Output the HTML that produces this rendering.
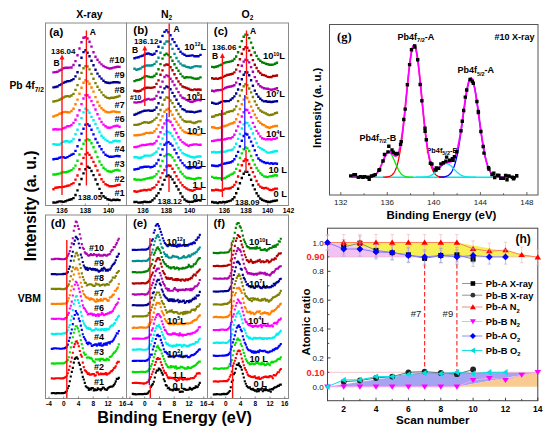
<!DOCTYPE html>
<html><head><meta charset="utf-8"><style>
html,body{margin:0;padding:0;background:#fff;}
svg{display:block;font-family:"Liberation Sans", sans-serif;}
</style></head><body>
<svg width="550" height="434" viewBox="0 0 550 434">
<rect width="550" height="434" fill="#fff"/>
<rect x="45.5" y="23" width="81.0" height="182.5" fill="none" stroke="#8a8a8a" stroke-width="1"/>
<rect x="126.5" y="23" width="81.0" height="182.5" fill="none" stroke="#8a8a8a" stroke-width="1"/>
<rect x="207.5" y="23" width="81.0" height="182.5" fill="none" stroke="#8a8a8a" stroke-width="1"/>
<rect x="45.5" y="215" width="81.0" height="183.5" fill="none" stroke="#8a8a8a" stroke-width="1"/>
<rect x="126.5" y="215" width="81.0" height="183.5" fill="none" stroke="#8a8a8a" stroke-width="1"/>
<rect x="207.5" y="215" width="81.0" height="183.5" fill="none" stroke="#8a8a8a" stroke-width="1"/>
<text x="89.5" y="17.5" font-size="10.5" text-anchor="middle" font-weight="bold" fill="#000" >X-ray</text>
<text x="166.5" y="17.5" font-size="10.5" text-anchor="middle" font-weight="bold" fill="#000" >N<tspan font-size="6.5" dy="2.5">2</tspan></text>
<text x="247.5" y="17.5" font-size="10.5" text-anchor="middle" font-weight="bold" fill="#000" >O<tspan font-size="6.5" dy="2.5">2</tspan></text>
<text x="49.2" y="35.5" font-size="11.5" text-anchor="start" font-weight="bold" fill="#000" >(a)</text>
<text x="133.3" y="33.7" font-size="11.5" text-anchor="start" font-weight="bold" fill="#000" >(b)</text>
<text x="213.8" y="35.0" font-size="11.5" text-anchor="start" font-weight="bold" fill="#000" >(c)</text>
<text x="50.8" y="226.7" font-size="11.5" text-anchor="start" font-weight="bold" fill="#000" >(d)</text>
<text x="133.0" y="227.0" font-size="11.5" text-anchor="start" font-weight="bold" fill="#000" >(e)</text>
<text x="213.5" y="227.0" font-size="11.5" text-anchor="start" font-weight="bold" fill="#000" >(f)</text>
<text x="9.5" y="88.8" font-size="10.3" text-anchor="start" font-weight="bold" fill="#000" >Pb 4f<tspan font-size="6.6" dy="3.6">7/2</tspan></text>
<text x="17.8" y="301.7" font-size="10.4" text-anchor="start" font-weight="bold" fill="#000" >VBM</text>
<text transform="translate(35.8,261.3) rotate(-90)" font-size="15.7" font-weight="bold">Intensity (a. u.)</text>
<text x="97.3" y="423.4" font-size="16.2" text-anchor="start" font-weight="bold" fill="#000" >Binding Energy (eV)</text>
<text x="62.0" y="212.5" font-size="6.8" text-anchor="middle" font-weight="bold" fill="#000" >136</text>
<line x1="62.0" y1="205.5" x2="62.0" y2="203.5" stroke="#666" stroke-width="0.8" />
<text x="85.3" y="212.5" font-size="6.8" text-anchor="middle" font-weight="bold" fill="#000" >138</text>
<line x1="85.3" y1="205.5" x2="85.3" y2="203.5" stroke="#666" stroke-width="0.8" />
<text x="108.6" y="212.5" font-size="6.8" text-anchor="middle" font-weight="bold" fill="#000" >140</text>
<line x1="108.6" y1="205.5" x2="108.6" y2="203.5" stroke="#666" stroke-width="0.8" />
<text x="143.0" y="212.5" font-size="6.8" text-anchor="middle" font-weight="bold" fill="#000" >136</text>
<line x1="143.0" y1="205.5" x2="143.0" y2="203.5" stroke="#666" stroke-width="0.8" />
<text x="166.3" y="212.5" font-size="6.8" text-anchor="middle" font-weight="bold" fill="#000" >138</text>
<line x1="166.3" y1="205.5" x2="166.3" y2="203.5" stroke="#666" stroke-width="0.8" />
<text x="189.6" y="212.5" font-size="6.8" text-anchor="middle" font-weight="bold" fill="#000" >140</text>
<line x1="189.6" y1="205.5" x2="189.6" y2="203.5" stroke="#666" stroke-width="0.8" />
<text x="224.3" y="212.5" font-size="6.8" text-anchor="middle" font-weight="bold" fill="#000" >136</text>
<line x1="224.3" y1="205.5" x2="224.3" y2="203.5" stroke="#666" stroke-width="0.8" />
<text x="246.0" y="212.5" font-size="6.8" text-anchor="middle" font-weight="bold" fill="#000" >138</text>
<line x1="246.0" y1="205.5" x2="246.0" y2="203.5" stroke="#666" stroke-width="0.8" />
<text x="267.7" y="212.5" font-size="6.8" text-anchor="middle" font-weight="bold" fill="#000" >140</text>
<line x1="267.7" y1="205.5" x2="267.7" y2="203.5" stroke="#666" stroke-width="0.8" />
<text x="288.5" y="212.5" font-size="6.8" text-anchor="middle" font-weight="bold" fill="#000" >142</text>
<text x="49.0" y="406.0" font-size="6.5" text-anchor="middle" font-weight="bold" fill="#000" >-4</text>
<line x1="49.0" y1="398.5" x2="49.0" y2="396.5" stroke="#666" stroke-width="0.8" />
<text x="63.7" y="406.0" font-size="6.5" text-anchor="middle" font-weight="bold" fill="#000" >0</text>
<line x1="63.7" y1="398.5" x2="63.7" y2="396.5" stroke="#666" stroke-width="0.8" />
<text x="78.5" y="406.0" font-size="6.5" text-anchor="middle" font-weight="bold" fill="#000" >4</text>
<line x1="78.5" y1="398.5" x2="78.5" y2="396.5" stroke="#666" stroke-width="0.8" />
<text x="93.2" y="406.0" font-size="6.5" text-anchor="middle" font-weight="bold" fill="#000" >8</text>
<line x1="93.2" y1="398.5" x2="93.2" y2="396.5" stroke="#666" stroke-width="0.8" />
<text x="108.0" y="406.0" font-size="6.5" text-anchor="middle" font-weight="bold" fill="#000" >12</text>
<line x1="108.0" y1="398.5" x2="108.0" y2="396.5" stroke="#666" stroke-width="0.8" />
<text x="122.7" y="406.0" font-size="6.5" text-anchor="middle" font-weight="bold" fill="#000" >16</text>
<line x1="122.7" y1="398.5" x2="122.7" y2="396.5" stroke="#666" stroke-width="0.8" />
<text x="130.0" y="406.0" font-size="6.5" text-anchor="middle" font-weight="bold" fill="#000" >-4</text>
<line x1="130.0" y1="398.5" x2="130.0" y2="396.5" stroke="#666" stroke-width="0.8" />
<text x="144.7" y="406.0" font-size="6.5" text-anchor="middle" font-weight="bold" fill="#000" >0</text>
<line x1="144.7" y1="398.5" x2="144.7" y2="396.5" stroke="#666" stroke-width="0.8" />
<text x="159.5" y="406.0" font-size="6.5" text-anchor="middle" font-weight="bold" fill="#000" >4</text>
<line x1="159.5" y1="398.5" x2="159.5" y2="396.5" stroke="#666" stroke-width="0.8" />
<text x="174.2" y="406.0" font-size="6.5" text-anchor="middle" font-weight="bold" fill="#000" >8</text>
<line x1="174.2" y1="398.5" x2="174.2" y2="396.5" stroke="#666" stroke-width="0.8" />
<text x="189.0" y="406.0" font-size="6.5" text-anchor="middle" font-weight="bold" fill="#000" >12</text>
<line x1="189.0" y1="398.5" x2="189.0" y2="396.5" stroke="#666" stroke-width="0.8" />
<text x="203.7" y="406.0" font-size="6.5" text-anchor="middle" font-weight="bold" fill="#000" >16</text>
<line x1="203.7" y1="398.5" x2="203.7" y2="396.5" stroke="#666" stroke-width="0.8" />
<text x="211.0" y="406.0" font-size="6.5" text-anchor="middle" font-weight="bold" fill="#000" >-4</text>
<line x1="211.0" y1="398.5" x2="211.0" y2="396.5" stroke="#666" stroke-width="0.8" />
<text x="225.7" y="406.0" font-size="6.5" text-anchor="middle" font-weight="bold" fill="#000" >0</text>
<line x1="225.7" y1="398.5" x2="225.7" y2="396.5" stroke="#666" stroke-width="0.8" />
<text x="240.5" y="406.0" font-size="6.5" text-anchor="middle" font-weight="bold" fill="#000" >4</text>
<line x1="240.5" y1="398.5" x2="240.5" y2="396.5" stroke="#666" stroke-width="0.8" />
<text x="255.2" y="406.0" font-size="6.5" text-anchor="middle" font-weight="bold" fill="#000" >8</text>
<line x1="255.2" y1="398.5" x2="255.2" y2="396.5" stroke="#666" stroke-width="0.8" />
<text x="270.0" y="406.0" font-size="6.5" text-anchor="middle" font-weight="bold" fill="#000" >12</text>
<line x1="270.0" y1="398.5" x2="270.0" y2="396.5" stroke="#666" stroke-width="0.8" />
<text x="284.7" y="406.0" font-size="6.5" text-anchor="middle" font-weight="bold" fill="#000" >16</text>
<line x1="284.7" y1="398.5" x2="284.7" y2="396.5" stroke="#666" stroke-width="0.8" />
<path d="M53.5 202.5h0M55.5 202.6h0M57.5 202.0h0M59.5 201.4h0M61.5 201.5h0M63.5 201.9h0M65.5 201.3h0M67.5 200.4h0M69.5 199.7h0M71.5 199.2h0M73.5 198.1h0M75.5 195.0h0M77.5 190.4h0M79.5 184.4h0M81.5 179.0h0M83.5 173.4h0M85.5 169.3h0M87.5 166.7h0M89.5 167.9h0M91.5 171.0h0M93.5 175.1h0M95.5 179.5h0M97.5 184.2h0M99.5 188.9h0M101.5 193.1h0M103.5 196.2h0M105.5 197.8h0M107.5 199.3h0M109.5 199.7h0M111.5 200.4h0M113.5 199.7h0M115.5 200.0h0M117.5 199.7h0M119.5 200.1h0" stroke="#000000" stroke-width="2.4" stroke-linecap="square" fill="none"/>
<path d="M53.5 189.2h0M55.5 187.7h0M57.5 187.5h0M59.5 187.1h0M61.5 187.1h0M63.5 186.9h0M65.5 186.4h0M67.5 185.8h0M69.5 185.4h0M71.5 184.1h0M73.5 183.1h0M75.5 179.6h0M77.5 175.5h0M79.5 169.3h0M81.5 163.8h0M83.5 157.9h0M85.5 154.4h0M87.5 153.0h0M89.5 154.9h0M91.5 157.7h0M93.5 161.9h0M95.5 165.8h0M97.5 170.5h0M99.5 174.8h0M101.5 179.3h0M103.5 181.9h0M105.5 184.2h0M107.5 185.3h0M109.5 186.2h0M111.5 186.3h0M113.5 186.1h0M115.5 185.7h0M117.5 185.1h0M119.5 184.8h0" stroke="#ff0000" stroke-width="2.4" stroke-linecap="square" fill="none"/>
<path d="M53.5 174.5h0M55.5 174.5h0M57.5 174.0h0M59.5 173.6h0M61.5 172.8h0M63.5 172.3h0M65.5 172.3h0M67.5 171.8h0M69.5 171.0h0M71.5 170.1h0M73.5 168.4h0M75.5 165.6h0M77.5 160.7h0M79.5 154.5h0M81.5 148.9h0M83.5 143.7h0M85.5 140.5h0M87.5 139.2h0M89.5 140.3h0M91.5 143.2h0M93.5 147.2h0M95.5 151.8h0M97.5 157.0h0M99.5 161.5h0M101.5 164.9h0M103.5 167.8h0M105.5 169.4h0M107.5 171.0h0M109.5 171.5h0M111.5 171.8h0M113.5 170.9h0M115.5 170.1h0M117.5 170.0h0M119.5 170.6h0" stroke="#00e000" stroke-width="2.4" stroke-linecap="square" fill="none"/>
<path d="M53.5 159.3h0M55.5 158.9h0M57.5 158.8h0M59.5 157.7h0M61.5 157.1h0M63.5 157.3h0M65.5 157.9h0M67.5 157.1h0M69.5 155.9h0M71.5 154.8h0M73.5 153.9h0M75.5 150.9h0M77.5 146.2h0M79.5 140.0h0M81.5 133.6h0M83.5 128.8h0M85.5 124.7h0M87.5 124.2h0M89.5 125.8h0M91.5 129.8h0M93.5 134.4h0M95.5 139.0h0M97.5 142.6h0M99.5 146.2h0M101.5 149.3h0M103.5 152.4h0M105.5 154.7h0M107.5 155.9h0M109.5 156.8h0M111.5 156.8h0M113.5 156.6h0M115.5 156.1h0M117.5 156.0h0M119.5 156.3h0" stroke="#0000ff" stroke-width="2.4" stroke-linecap="square" fill="none"/>
<path d="M53.5 144.1h0M55.5 144.5h0M57.5 144.7h0M59.5 144.5h0M61.5 143.2h0M63.5 141.7h0M65.5 141.3h0M67.5 141.2h0M69.5 142.0h0M71.5 141.2h0M73.5 139.0h0M75.5 134.3h0M77.5 129.8h0M79.5 124.1h0M81.5 118.1h0M83.5 112.4h0M85.5 108.8h0M87.5 110.2h0M89.5 112.7h0M91.5 116.9h0M93.5 120.3h0M95.5 124.0h0M97.5 128.3h0M99.5 131.8h0M101.5 135.8h0M103.5 137.7h0M105.5 139.6h0M107.5 140.9h0M109.5 142.4h0M111.5 142.4h0M113.5 141.3h0M115.5 140.8h0M117.5 141.2h0M119.5 141.3h0" stroke="#00f0f0" stroke-width="2.4" stroke-linecap="square" fill="none"/>
<path d="M53.5 129.5h0M55.5 129.3h0M57.5 129.5h0M59.5 129.4h0M61.5 129.4h0M63.5 128.3h0M65.5 127.5h0M67.5 126.3h0M69.5 126.1h0M71.5 125.0h0M73.5 122.9h0M75.5 119.7h0M77.5 115.5h0M79.5 110.2h0M81.5 104.1h0M83.5 98.5h0M85.5 95.3h0M87.5 95.2h0M89.5 97.4h0M91.5 101.1h0M93.5 105.1h0M95.5 109.5h0M97.5 114.2h0M99.5 118.6h0M101.5 121.9h0M103.5 124.6h0M105.5 126.2h0M107.5 127.5h0M109.5 127.8h0M111.5 127.4h0M113.5 126.4h0M115.5 126.0h0M117.5 125.8h0M119.5 126.7h0" stroke="#ff00ff" stroke-width="2.4" stroke-linecap="square" fill="none"/>
<path d="M53.5 116.5h0M55.5 115.6h0M57.5 115.0h0M59.5 113.8h0M61.5 113.3h0M63.5 112.1h0M65.5 111.9h0M67.5 112.2h0M69.5 112.4h0M71.5 111.0h0M73.5 108.7h0M75.5 104.2h0M77.5 99.6h0M79.5 93.7h0M81.5 87.8h0M83.5 82.8h0M85.5 80.3h0M87.5 81.4h0M89.5 83.8h0M91.5 87.5h0M93.5 91.6h0M95.5 97.1h0M97.5 102.0h0M99.5 105.8h0M101.5 108.2h0M103.5 110.0h0M105.5 111.5h0M107.5 112.2h0M109.5 112.4h0M111.5 111.8h0M113.5 111.4h0M115.5 111.7h0M117.5 112.1h0M119.5 112.1h0" stroke="#ff8000" stroke-width="2.4" stroke-linecap="square" fill="none"/>
<path d="M53.5 101.5h0M55.5 101.1h0M57.5 100.6h0M59.5 99.8h0M61.5 98.7h0M63.5 97.5h0M65.5 96.5h0M67.5 96.1h0M69.5 96.5h0M71.5 95.5h0M73.5 93.9h0M75.5 89.9h0M77.5 85.1h0M79.5 78.8h0M81.5 72.9h0M83.5 68.2h0M85.5 66.1h0M87.5 66.5h0M89.5 69.4h0M91.5 73.9h0M93.5 78.7h0M95.5 83.1h0M97.5 86.7h0M99.5 89.9h0M101.5 92.4h0M103.5 95.1h0M105.5 96.8h0M107.5 97.9h0M109.5 98.2h0M111.5 97.8h0M113.5 97.8h0M115.5 97.3h0M117.5 96.8h0M119.5 96.0h0" stroke="#808000" stroke-width="2.4" stroke-linecap="square" fill="none"/>
<path d="M53.5 87.4h0M55.5 87.0h0M57.5 86.5h0M59.5 85.1h0M61.5 84.2h0M63.5 82.7h0M65.5 82.0h0M67.5 81.3h0M69.5 81.1h0M71.5 80.3h0M73.5 79.1h0M75.5 76.4h0M77.5 72.2h0M79.5 65.4h0M81.5 57.8h0M83.5 52.1h0M85.5 50.3h0M87.5 52.7h0M89.5 56.2h0M91.5 60.7h0M93.5 65.2h0M95.5 69.8h0M97.5 73.6h0M99.5 76.4h0M101.5 78.6h0M103.5 80.8h0M105.5 82.2h0M107.5 82.8h0M109.5 83.0h0M111.5 82.6h0M113.5 82.2h0M115.5 82.2h0M117.5 82.3h0M119.5 82.6h0" stroke="#000090" stroke-width="2.4" stroke-linecap="square" fill="none"/>
<path d="M53.5 72.4h0M55.5 72.1h0M57.5 71.8h0M59.5 70.5h0M61.5 69.8h0M63.5 68.2h0M65.5 67.7h0M67.5 67.7h0M69.5 67.6h0M71.5 67.5h0M73.5 65.0h0M75.5 61.1h0M77.5 55.3h0M79.5 48.5h0M81.5 42.2h0M83.5 37.8h0M85.5 37.3h0M87.5 38.5h0M89.5 41.8h0M91.5 46.6h0M93.5 52.3h0M95.5 56.7h0M97.5 59.8h0M99.5 62.4h0M101.5 64.4h0M103.5 66.0h0M105.5 67.1h0M107.5 67.9h0M109.5 68.5h0M111.5 68.3h0M113.5 67.6h0M115.5 67.3h0M117.5 66.8h0M119.5 66.9h0" stroke="#b000b0" stroke-width="2.4" stroke-linecap="square" fill="none"/>
<path d="M134.5 202.0h0M136.5 201.9h0M138.5 202.6h0M140.5 202.5h0M142.5 202.3h0M144.5 201.8h0M146.5 202.0h0M148.5 202.1h0M150.5 201.7h0M152.5 200.2h0M154.5 198.4h0M156.5 195.8h0M158.5 193.1h0M160.5 189.3h0M162.5 184.6h0M164.5 179.9h0M166.5 176.4h0M168.5 175.4h0M170.5 176.7h0M172.5 179.4h0M174.5 182.8h0M176.5 186.3h0M178.5 189.5h0M180.5 193.3h0M182.5 196.7h0M184.5 199.5h0M186.5 201.0h0M188.5 201.8h0M190.5 201.9h0M192.5 201.8h0M194.5 201.1h0M196.5 200.7h0M198.5 200.1h0M200.5 200.5h0" stroke="#000000" stroke-width="2.4" stroke-linecap="square" fill="none"/>
<path d="M134.5 191.3h0M136.5 191.8h0M138.5 191.4h0M140.5 190.8h0M142.5 190.4h0M144.5 190.0h0M146.5 190.2h0M148.5 189.6h0M150.5 189.7h0M152.5 188.3h0M154.5 187.4h0M156.5 184.9h0M158.5 181.7h0M160.5 177.6h0M162.5 173.1h0M164.5 170.0h0M166.5 166.5h0M168.5 165.5h0M170.5 165.7h0M172.5 168.8h0M174.5 172.3h0M176.5 176.2h0M178.5 179.6h0M180.5 182.6h0M182.5 185.3h0M184.5 187.1h0M186.5 188.5h0M188.5 189.6h0M190.5 190.3h0M192.5 190.7h0M194.5 189.9h0M196.5 188.9h0M198.5 188.8h0M200.5 188.9h0" stroke="#ff0000" stroke-width="2.4" stroke-linecap="square" fill="none"/>
<path d="M134.5 179.3h0M136.5 179.7h0M138.5 179.6h0M140.5 179.9h0M142.5 179.6h0M144.5 179.3h0M146.5 178.6h0M148.5 178.3h0M150.5 177.8h0M152.5 177.5h0M154.5 176.4h0M156.5 174.3h0M158.5 171.4h0M160.5 166.0h0M162.5 161.0h0M164.5 156.1h0M166.5 154.6h0M168.5 154.2h0M170.5 155.2h0M172.5 157.4h0M174.5 160.5h0M176.5 165.1h0M178.5 168.3h0M180.5 171.7h0M182.5 174.0h0M184.5 176.4h0M186.5 177.7h0M188.5 178.0h0M190.5 178.5h0M192.5 178.9h0M194.5 179.2h0M196.5 178.5h0M198.5 178.0h0M200.5 178.1h0" stroke="#00e000" stroke-width="2.4" stroke-linecap="square" fill="none"/>
<path d="M134.5 169.5h0M136.5 169.1h0M138.5 168.8h0M140.5 167.5h0M142.5 167.2h0M144.5 166.8h0M146.5 166.8h0M148.5 166.6h0M150.5 167.2h0M152.5 166.9h0M154.5 165.7h0M156.5 163.5h0M158.5 160.0h0M160.5 154.9h0M162.5 149.4h0M164.5 144.8h0M166.5 143.0h0M168.5 142.1h0M170.5 143.7h0M172.5 145.6h0M174.5 149.6h0M176.5 153.3h0M178.5 157.4h0M180.5 160.4h0M182.5 163.1h0M184.5 165.4h0M186.5 167.2h0M188.5 168.2h0M190.5 168.0h0M192.5 167.3h0M194.5 167.1h0M196.5 167.8h0M198.5 167.8h0M200.5 167.3h0" stroke="#0000ff" stroke-width="2.4" stroke-linecap="square" fill="none"/>
<path d="M134.5 157.2h0M136.5 157.3h0M138.5 157.8h0M140.5 157.7h0M142.5 157.2h0M144.5 155.8h0M146.5 155.6h0M148.5 155.6h0M150.5 155.6h0M152.5 154.7h0M154.5 153.4h0M156.5 151.7h0M158.5 148.5h0M160.5 144.0h0M162.5 138.6h0M164.5 134.2h0M166.5 131.4h0M168.5 131.9h0M170.5 133.2h0M172.5 136.0h0M174.5 139.4h0M176.5 143.4h0M178.5 147.6h0M180.5 150.3h0M182.5 153.0h0M184.5 154.3h0M186.5 155.3h0M188.5 155.7h0M190.5 156.7h0M192.5 157.3h0M194.5 157.5h0M196.5 156.8h0M198.5 156.5h0M200.5 156.5h0" stroke="#00f0f0" stroke-width="2.4" stroke-linecap="square" fill="none"/>
<path d="M134.5 147.1h0M136.5 147.0h0M138.5 146.4h0M140.5 145.6h0M142.5 145.0h0M144.5 145.1h0M146.5 144.7h0M148.5 144.4h0M150.5 144.0h0M152.5 144.2h0M154.5 143.2h0M156.5 141.0h0M158.5 136.8h0M160.5 132.2h0M162.5 127.5h0M164.5 123.5h0M166.5 120.4h0M168.5 120.5h0M170.5 121.8h0M172.5 125.3h0M174.5 129.3h0M176.5 133.0h0M178.5 137.3h0M180.5 139.9h0M182.5 142.1h0M184.5 143.5h0M186.5 144.7h0M188.5 145.7h0M190.5 145.1h0M192.5 144.7h0M194.5 144.4h0M196.5 144.4h0M198.5 144.9h0M200.5 144.7h0" stroke="#ff00ff" stroke-width="2.4" stroke-linecap="square" fill="none"/>
<path d="M134.5 135.4h0M136.5 135.2h0M138.5 135.0h0M140.5 134.9h0M142.5 134.4h0M144.5 133.8h0M146.5 132.9h0M148.5 133.1h0M150.5 132.8h0M152.5 132.9h0M154.5 131.2h0M156.5 128.9h0M158.5 125.1h0M160.5 120.3h0M162.5 116.2h0M164.5 111.8h0M166.5 109.7h0M168.5 108.8h0M170.5 111.3h0M172.5 114.8h0M174.5 118.8h0M176.5 121.8h0M178.5 124.7h0M180.5 127.8h0M182.5 130.4h0M184.5 132.0h0M186.5 132.7h0M188.5 133.3h0M190.5 133.9h0M192.5 133.9h0M194.5 133.9h0M196.5 134.4h0M198.5 134.9h0M200.5 134.4h0" stroke="#ff8000" stroke-width="2.4" stroke-linecap="square" fill="none"/>
<path d="M134.5 124.9h0M136.5 124.9h0M138.5 124.5h0M140.5 123.9h0M142.5 122.9h0M144.5 122.3h0M146.5 122.4h0M148.5 122.7h0M150.5 122.2h0M152.5 121.3h0M154.5 119.6h0M156.5 117.9h0M158.5 114.3h0M160.5 110.0h0M162.5 104.7h0M164.5 99.8h0M166.5 97.4h0M168.5 97.7h0M170.5 100.5h0M172.5 103.1h0M174.5 106.9h0M176.5 110.3h0M178.5 114.0h0M180.5 117.0h0M182.5 119.6h0M184.5 121.2h0M186.5 121.8h0M188.5 121.6h0M190.5 121.8h0M192.5 122.6h0M194.5 123.0h0M196.5 122.2h0M198.5 121.4h0M200.5 121.4h0" stroke="#808000" stroke-width="2.4" stroke-linecap="square" fill="none"/>
<path d="M134.5 114.7h0M136.5 114.0h0M138.5 113.0h0M140.5 112.2h0M142.5 111.4h0M144.5 110.8h0M146.5 110.6h0M148.5 110.4h0M150.5 110.7h0M152.5 110.8h0M154.5 109.9h0M156.5 107.5h0M158.5 103.2h0M160.5 97.6h0M162.5 92.4h0M164.5 88.4h0M166.5 86.5h0M168.5 87.3h0M170.5 89.2h0M172.5 92.9h0M174.5 96.2h0M176.5 99.7h0M178.5 103.7h0M180.5 106.3h0M182.5 109.1h0M184.5 110.0h0M186.5 111.5h0M188.5 111.6h0M190.5 111.8h0M192.5 111.9h0M194.5 112.4h0M196.5 111.9h0M198.5 111.4h0M200.5 111.0h0" stroke="#000090" stroke-width="2.4" stroke-linecap="square" fill="none"/>
<path d="M134.5 102.4h0M136.5 102.6h0M138.5 102.1h0M140.5 102.1h0M142.5 101.3h0M144.5 100.1h0M146.5 99.5h0M148.5 98.9h0M150.5 99.6h0M152.5 99.5h0M154.5 98.8h0M156.5 95.9h0M158.5 92.0h0M160.5 86.9h0M162.5 81.6h0M164.5 77.0h0M166.5 75.4h0M168.5 76.3h0M170.5 78.7h0M172.5 81.5h0M174.5 85.0h0M176.5 88.6h0M178.5 92.1h0M180.5 95.5h0M182.5 97.7h0M184.5 98.5h0M186.5 99.9h0M188.5 100.7h0M190.5 101.8h0M192.5 101.7h0M194.5 101.0h0M196.5 100.2h0M198.5 99.7h0M200.5 100.2h0" stroke="#b000b0" stroke-width="2.4" stroke-linecap="square" fill="none"/>
<path d="M134.5 90.7h0M136.5 91.2h0M138.5 91.3h0M140.5 90.7h0M142.5 89.4h0M144.5 88.2h0M146.5 87.8h0M148.5 87.6h0M150.5 87.9h0M152.5 87.6h0M154.5 87.1h0M156.5 83.9h0M158.5 80.4h0M160.5 74.8h0M162.5 70.4h0M164.5 65.4h0M166.5 64.5h0M168.5 64.8h0M170.5 67.3h0M172.5 70.2h0M174.5 74.3h0M176.5 78.3h0M178.5 81.5h0M180.5 84.2h0M182.5 86.5h0M184.5 87.2h0M186.5 88.0h0M188.5 88.7h0M190.5 89.8h0M192.5 90.1h0M194.5 89.4h0M196.5 89.8h0M198.5 89.5h0M200.5 89.7h0" stroke="#b00000" stroke-width="2.4" stroke-linecap="square" fill="none"/>
<path d="M134.5 81.1h0M136.5 80.3h0M138.5 79.9h0M140.5 79.3h0M142.5 78.0h0M144.5 76.6h0M146.5 76.1h0M148.5 76.6h0M150.5 77.1h0M152.5 77.0h0M154.5 75.8h0M156.5 73.7h0M158.5 69.3h0M160.5 64.1h0M162.5 58.6h0M164.5 55.0h0M166.5 53.8h0M168.5 55.0h0M170.5 57.1h0M172.5 60.8h0M174.5 64.3h0M176.5 67.9h0M178.5 70.8h0M180.5 73.9h0M182.5 76.4h0M184.5 77.7h0M186.5 77.3h0M188.5 77.4h0M190.5 77.4h0M192.5 78.0h0M194.5 78.6h0M196.5 78.7h0M198.5 78.5h0M200.5 77.4h0" stroke="#008000" stroke-width="2.4" stroke-linecap="square" fill="none"/>
<path d="M134.5 68.8h0M136.5 69.8h0M138.5 69.2h0M140.5 68.5h0M142.5 67.0h0M144.5 66.3h0M146.5 65.5h0M148.5 65.5h0M150.5 65.5h0M152.5 65.3h0M154.5 63.9h0M156.5 61.6h0M158.5 57.8h0M160.5 52.8h0M162.5 47.8h0M164.5 43.7h0M166.5 41.5h0M168.5 41.5h0M170.5 44.4h0M172.5 48.9h0M174.5 53.9h0M176.5 58.0h0M178.5 61.4h0M180.5 63.6h0M182.5 65.4h0M184.5 65.8h0M186.5 66.9h0M188.5 67.2h0M190.5 67.7h0M192.5 67.2h0M194.5 66.4h0M196.5 66.1h0M198.5 66.4h0M200.5 66.5h0" stroke="#009090" stroke-width="2.4" stroke-linecap="square" fill="none"/>
<path d="M134.5 58.3h0M136.5 57.6h0M138.5 57.3h0M140.5 56.4h0M142.5 55.8h0M144.5 54.6h0M146.5 53.8h0M148.5 53.5h0M150.5 54.2h0M152.5 54.8h0M154.5 53.7h0M156.5 51.1h0M158.5 46.7h0M160.5 41.8h0M162.5 35.9h0M164.5 31.9h0M166.5 30.3h0M168.5 32.3h0M170.5 35.2h0M172.5 39.3h0M174.5 42.1h0M176.5 45.8h0M178.5 48.9h0M180.5 51.7h0M182.5 53.6h0M184.5 54.8h0M186.5 55.9h0M188.5 55.9h0M190.5 55.6h0M192.5 55.4h0M194.5 56.2h0M196.5 56.2h0M198.5 56.2h0M200.5 54.9h0" stroke="#0000c0" stroke-width="2.4" stroke-linecap="square" fill="none"/>
<path d="M212.2 202.0h0M214.1 202.5h0M215.9 202.5h0M217.8 203.0h0M219.6 202.3h0M221.4 202.5h0M223.3 202.0h0M225.2 202.3h0M227.0 201.7h0M228.9 201.1h0M230.7 200.6h0M232.6 199.3h0M234.4 197.3h0M236.2 193.3h0M238.1 188.8h0M239.9 183.2h0M241.8 178.0h0M243.7 173.7h0M245.5 171.6h0M247.3 171.9h0M249.2 174.9h0M251.1 179.8h0M252.9 185.3h0M254.8 189.4h0M256.6 193.2h0M258.4 196.0h0M260.3 198.5h0M262.1 199.8h0M264.0 200.6h0M265.9 201.2h0M267.7 201.8h0M269.6 202.0h0M271.4 201.5h0M273.2 201.0h0M275.1 200.8h0M276.9 200.4h0" stroke="#000000" stroke-width="2.4" stroke-linecap="square" fill="none"/>
<path d="M212.2 190.2h0M214.1 190.4h0M215.9 189.8h0M217.8 190.0h0M219.6 190.4h0M221.4 190.5h0M223.3 189.7h0M225.2 188.6h0M227.0 188.6h0M228.9 188.5h0M230.7 188.0h0M232.6 186.9h0M234.4 185.0h0M236.2 182.0h0M238.1 176.5h0M239.9 170.7h0M241.8 165.2h0M243.7 161.0h0M245.5 159.3h0M247.3 160.3h0M249.2 164.0h0M251.1 167.9h0M252.9 172.1h0M254.8 176.6h0M256.6 181.0h0M258.4 184.5h0M260.3 186.6h0M262.1 187.7h0M264.0 188.2h0M265.9 187.9h0M267.7 188.6h0M269.6 189.7h0M271.4 190.1h0M273.2 189.5h0M275.1 188.7h0M276.9 188.6h0" stroke="#ff0000" stroke-width="2.4" stroke-linecap="square" fill="none"/>
<path d="M212.2 176.9h0M214.1 177.9h0M215.9 177.8h0M217.8 178.3h0M219.6 178.1h0M221.4 178.6h0M223.3 178.5h0M225.2 178.0h0M227.0 176.7h0M228.9 175.8h0M230.7 174.6h0M232.6 173.7h0M234.4 172.5h0M236.2 168.9h0M238.1 164.6h0M239.9 157.9h0M241.8 153.4h0M243.7 149.2h0M245.5 147.4h0M247.3 148.4h0M249.2 151.0h0M251.1 155.9h0M252.9 160.2h0M254.8 164.6h0M256.6 168.0h0M258.4 170.8h0M260.3 173.2h0M262.1 174.7h0M264.0 176.4h0M265.9 176.8h0M267.7 177.1h0M269.6 176.4h0M271.4 176.2h0M273.2 175.7h0M275.1 175.3h0M276.9 175.5h0" stroke="#00e000" stroke-width="2.4" stroke-linecap="square" fill="none"/>
<path d="M212.2 165.5h0M214.1 165.8h0M215.9 166.0h0M217.8 166.0h0M219.6 165.3h0M221.4 164.7h0M223.3 163.8h0M225.2 163.5h0M227.0 163.0h0M228.9 162.7h0M230.7 162.2h0M232.6 161.3h0M234.4 159.3h0M236.2 156.0h0M238.1 151.9h0M239.9 146.4h0M241.8 140.7h0M243.7 136.0h0M245.5 133.8h0M247.3 134.5h0M249.2 137.5h0M251.1 141.6h0M252.9 145.8h0M254.8 150.4h0M256.6 155.1h0M258.4 158.5h0M260.3 160.2h0M262.1 161.4h0M264.0 162.3h0M265.9 163.0h0M267.7 162.9h0M269.6 163.6h0M271.4 163.3h0M273.2 163.7h0M275.1 163.4h0M276.9 163.8h0" stroke="#0000ff" stroke-width="2.4" stroke-linecap="square" fill="none"/>
<path d="M212.2 152.3h0M214.1 151.9h0M215.9 152.5h0M217.8 152.2h0M219.6 152.2h0M221.4 151.8h0M223.3 151.8h0M225.2 151.6h0M227.0 151.0h0M228.9 150.4h0M230.7 150.1h0M232.6 149.5h0M234.4 147.4h0M236.2 143.7h0M238.1 138.9h0M239.9 133.9h0M241.8 128.5h0M243.7 124.4h0M245.5 122.7h0M247.3 123.0h0M249.2 125.6h0M251.1 128.7h0M252.9 133.5h0M254.8 138.6h0M256.6 143.0h0M258.4 146.9h0M260.3 148.1h0M262.1 149.2h0M264.0 150.1h0M265.9 151.6h0M267.7 152.6h0M269.6 152.6h0M271.4 152.3h0M273.2 151.8h0M275.1 151.3h0M276.9 151.2h0" stroke="#00f0f0" stroke-width="2.4" stroke-linecap="square" fill="none"/>
<path d="M212.2 141.1h0M214.1 140.8h0M215.9 140.4h0M217.8 140.0h0M219.6 139.9h0M221.4 139.7h0M223.3 139.6h0M225.2 139.3h0M227.0 138.7h0M228.9 138.1h0M230.7 138.2h0M232.6 137.1h0M234.4 134.7h0M236.2 130.8h0M238.1 126.4h0M239.9 121.9h0M241.8 116.5h0M243.7 112.2h0M245.5 109.7h0M247.3 110.0h0M249.2 112.9h0M251.1 117.1h0M252.9 122.9h0M254.8 126.9h0M256.6 130.9h0M258.4 133.5h0M260.3 136.4h0M262.1 138.2h0M264.0 138.9h0M265.9 139.4h0M267.7 139.2h0M269.6 139.1h0M271.4 139.5h0M273.2 138.9h0M275.1 138.9h0M276.9 137.9h0" stroke="#ff00ff" stroke-width="2.4" stroke-linecap="square" fill="none"/>
<path d="M212.2 127.2h0M214.1 127.5h0M215.9 128.1h0M217.8 128.3h0M219.6 127.9h0M221.4 127.1h0M223.3 126.4h0M225.2 126.0h0M227.0 125.4h0M228.9 124.5h0M230.7 123.6h0M232.6 123.3h0M234.4 122.2h0M236.2 119.2h0M238.1 114.4h0M239.9 109.0h0M241.8 104.2h0M243.7 99.6h0M245.5 97.2h0M247.3 98.0h0M249.2 101.8h0M251.1 106.6h0M252.9 110.7h0M254.8 114.6h0M256.6 117.9h0M258.4 121.1h0M260.3 122.8h0M262.1 124.2h0M264.0 125.1h0M265.9 126.5h0M267.7 127.3h0M269.6 127.7h0M271.4 127.1h0M273.2 126.5h0M275.1 126.0h0M276.9 126.0h0" stroke="#ff8000" stroke-width="2.4" stroke-linecap="square" fill="none"/>
<path d="M212.2 116.8h0M214.1 116.5h0M215.9 115.3h0M217.8 115.1h0M219.6 114.3h0M221.4 114.7h0M223.3 113.7h0M225.2 113.5h0M227.0 112.1h0M228.9 111.8h0M230.7 111.1h0M232.6 111.0h0M234.4 109.5h0M236.2 106.4h0M238.1 101.1h0M239.9 95.6h0M241.8 90.3h0M243.7 86.2h0M245.5 84.3h0M247.3 85.2h0M249.2 88.5h0M251.1 92.4h0M252.9 97.0h0M254.8 101.4h0M256.6 104.9h0M258.4 108.2h0M260.3 110.5h0M262.1 111.8h0M264.0 112.6h0M265.9 113.5h0M267.7 114.5h0M269.6 115.1h0M271.4 114.7h0M273.2 114.4h0M275.1 113.3h0M276.9 112.8h0" stroke="#808000" stroke-width="2.4" stroke-linecap="square" fill="none"/>
<path d="M212.2 102.7h0M214.1 103.4h0M215.9 103.9h0M217.8 103.6h0M219.6 102.8h0M221.4 101.9h0M223.3 101.1h0M225.2 101.2h0M227.0 101.1h0M228.9 101.1h0M230.7 99.8h0M232.6 98.3h0M234.4 96.4h0M236.2 93.5h0M238.1 89.5h0M239.9 84.3h0M241.8 79.3h0M243.7 74.8h0M245.5 72.3h0M247.3 72.5h0M249.2 75.3h0M251.1 80.2h0M252.9 85.7h0M254.8 90.6h0M256.6 94.1h0M258.4 96.7h0M260.3 98.7h0M262.1 100.4h0M264.0 101.4h0M265.9 101.3h0M267.7 101.7h0M269.6 101.7h0M271.4 102.0h0M273.2 101.7h0M275.1 101.4h0M276.9 101.2h0" stroke="#000090" stroke-width="2.4" stroke-linecap="square" fill="none"/>
<path d="M212.2 90.7h0M214.1 91.2h0M215.9 90.5h0M217.8 90.3h0M219.6 90.1h0M221.4 90.0h0M223.3 89.1h0M225.2 88.0h0M227.0 87.2h0M228.9 86.8h0M230.7 86.5h0M232.6 86.0h0M234.4 85.2h0M236.2 82.6h0M238.1 78.3h0M239.9 71.4h0M241.8 65.8h0M243.7 61.6h0M245.5 59.8h0M247.3 60.4h0M249.2 62.4h0M251.1 67.1h0M252.9 71.7h0M254.8 77.1h0M256.6 81.2h0M258.4 84.2h0M260.3 86.3h0M262.1 87.4h0M264.0 88.3h0M265.9 88.6h0M267.7 88.7h0M269.6 89.4h0M271.4 89.7h0M273.2 89.4h0M275.1 89.0h0M276.9 88.2h0" stroke="#b000b0" stroke-width="2.4" stroke-linecap="square" fill="none"/>
<path d="M212.2 78.2h0M214.1 78.9h0M215.9 78.5h0M217.8 78.9h0M219.6 78.2h0M221.4 77.8h0M223.3 76.8h0M225.2 75.9h0M227.0 75.0h0M228.9 74.8h0M230.7 74.2h0M232.6 73.8h0M234.4 72.4h0M236.2 69.6h0M238.1 65.1h0M239.9 59.2h0M241.8 53.7h0M243.7 49.3h0M245.5 47.2h0M247.3 47.8h0M249.2 50.6h0M251.1 55.0h0M252.9 60.1h0M254.8 64.8h0M256.6 68.0h0M258.4 71.3h0M260.3 73.0h0M262.1 74.7h0M264.0 75.1h0M265.9 75.9h0M267.7 76.9h0M269.6 77.1h0M271.4 77.0h0M273.2 76.0h0M275.1 75.9h0M276.9 75.5h0" stroke="#b00000" stroke-width="2.4" stroke-linecap="square" fill="none"/>
<path d="M212.2 66.9h0M214.1 67.3h0M215.9 66.7h0M217.8 66.3h0M219.6 65.4h0M221.4 64.8h0M223.3 63.3h0M225.2 62.6h0M227.0 62.1h0M228.9 61.9h0M230.7 61.4h0M232.6 60.7h0M234.4 59.0h0M236.2 56.5h0M238.1 52.2h0M239.9 46.9h0M241.8 41.1h0M243.7 36.7h0M245.5 34.6h0M247.3 34.9h0M249.2 38.1h0M251.1 42.6h0M252.9 47.7h0M254.8 52.5h0M256.6 55.9h0M258.4 59.0h0M260.3 60.7h0M262.1 62.2h0M264.0 62.9h0M265.9 63.7h0M267.7 64.3h0M269.6 64.7h0M271.4 64.8h0M273.2 64.6h0M275.1 63.7h0M276.9 62.8h0" stroke="#008000" stroke-width="2.4" stroke-linecap="square" fill="none"/>
<path d="M51.8 393.3h0M52.8 393.0h0M53.8 393.0h0M54.8 393.3h0M55.8 393.4h0M56.8 393.1h0M57.8 393.0h0M58.8 393.1h0M59.8 393.3h0M60.8 393.2h0M61.8 393.1h0M62.8 393.1h0M63.8 393.0h0M64.8 392.8h0M65.8 392.0h0M66.8 390.7h0M67.8 388.3h0M68.8 386.0h0M69.8 381.2h0M70.8 376.5h0M71.8 371.9h0M72.8 367.9h0M73.8 362.6h0M74.8 358.9h0M75.8 357.7h0M76.8 357.3h0M77.8 358.7h0M78.8 362.7h0M79.8 364.9h0M80.8 369.4h0M81.8 372.4h0M82.8 376.9h0M83.8 379.5h0M84.8 382.9h0M85.8 386.2h0M86.8 387.3h0M87.8 387.8h0M88.8 389.9h0M89.8 388.5h0M90.8 389.4h0M91.8 388.1h0M92.8 388.1h0M93.8 390.5h0M94.8 389.4h0M95.8 390.2h0M96.8 389.9h0M97.8 388.4h0M98.8 389.3h0M99.8 389.3h0M100.8 390.3h0M101.8 389.0h0M102.8 387.6h0M103.8 387.8h0M104.8 389.1h0M105.8 389.5h0M106.8 389.9h0M107.8 388.4h0M108.8 387.5h0M109.8 387.0h0M110.8 386.6h0M111.8 386.6h0M112.8 386.2h0M113.8 385.1h0M114.8 383.6h0M115.8 381.4h0M116.8 378.9h0M117.8 379.0h0M118.8 377.9h0" stroke="#000000" stroke-width="2.1" stroke-linecap="square" fill="none"/>
<path d="M51.8 378.4h0M52.8 378.5h0M53.8 378.6h0M54.8 378.5h0M55.8 378.3h0M56.8 378.2h0M57.8 378.3h0M58.8 378.2h0M59.8 378.2h0M60.8 378.4h0M61.8 378.5h0M62.8 378.4h0M63.8 378.0h0M64.8 377.5h0M65.8 377.0h0M66.8 375.7h0M67.8 373.2h0M68.8 369.9h0M69.8 366.3h0M70.8 361.7h0M71.8 357.6h0M72.8 352.7h0M73.8 346.9h0M74.8 344.1h0M75.8 341.7h0M76.8 341.3h0M77.8 343.4h0M78.8 346.3h0M79.8 351.0h0M80.8 354.7h0M81.8 356.6h0M82.8 362.6h0M83.8 367.1h0M84.8 370.3h0M85.8 371.1h0M86.8 372.4h0M87.8 373.9h0M88.8 373.2h0M89.8 374.6h0M90.8 374.7h0M91.8 374.2h0M92.8 374.1h0M93.8 374.1h0M94.8 375.6h0M95.8 375.2h0M96.8 372.4h0M97.8 372.5h0M98.8 374.5h0M99.8 374.3h0M100.8 373.6h0M101.8 374.1h0M102.8 373.9h0M103.8 374.2h0M104.8 373.9h0M105.8 373.1h0M106.8 374.8h0M107.8 373.7h0M108.8 373.5h0M109.8 372.7h0M110.8 371.5h0M111.8 371.1h0M112.8 370.0h0M113.8 368.2h0M114.8 367.6h0M115.8 366.3h0M116.8 363.4h0M117.8 361.9h0M118.8 361.8h0" stroke="#ff0000" stroke-width="2.1" stroke-linecap="square" fill="none"/>
<path d="M51.8 363.5h0M52.8 363.4h0M53.8 363.6h0M54.8 363.6h0M55.8 363.5h0M56.8 363.4h0M57.8 363.4h0M58.8 363.4h0M59.8 363.4h0M60.8 363.4h0M61.8 363.3h0M62.8 363.4h0M63.8 363.2h0M64.8 362.8h0M65.8 362.1h0M66.8 361.1h0M67.8 360.0h0M68.8 357.3h0M69.8 352.3h0M70.8 347.4h0M71.8 342.8h0M72.8 337.3h0M73.8 332.8h0M74.8 329.3h0M75.8 326.3h0M76.8 326.2h0M77.8 328.4h0M78.8 331.4h0M79.8 335.5h0M80.8 340.0h0M81.8 344.1h0M82.8 348.3h0M83.8 352.6h0M84.8 354.8h0M85.8 354.5h0M86.8 357.8h0M87.8 357.4h0M88.8 357.5h0M89.8 358.1h0M90.8 357.9h0M91.8 358.8h0M92.8 360.8h0M93.8 361.5h0M94.8 362.3h0M95.8 359.4h0M96.8 359.5h0M97.8 359.5h0M98.8 359.3h0M99.8 360.7h0M100.8 358.9h0M101.8 359.2h0M102.8 358.8h0M103.8 360.2h0M104.8 359.9h0M105.8 360.2h0M106.8 358.8h0M107.8 359.4h0M108.8 359.9h0M109.8 357.0h0M110.8 356.8h0M111.8 355.8h0M112.8 354.2h0M113.8 352.9h0M114.8 352.2h0M115.8 351.0h0M116.8 349.2h0M117.8 347.4h0M118.8 344.4h0" stroke="#00e000" stroke-width="2.1" stroke-linecap="square" fill="none"/>
<path d="M51.8 348.9h0M52.8 348.8h0M53.8 348.4h0M54.8 348.2h0M55.8 348.3h0M56.8 348.5h0M57.8 348.5h0M58.8 348.5h0M59.8 348.7h0M60.8 348.7h0M61.8 348.8h0M62.8 348.5h0M63.8 348.5h0M64.8 348.1h0M65.8 347.6h0M66.8 346.6h0M67.8 344.6h0M68.8 340.9h0M69.8 337.7h0M70.8 333.4h0M71.8 329.5h0M72.8 324.1h0M73.8 318.6h0M74.8 315.0h0M75.8 311.1h0M76.8 313.2h0M77.8 314.5h0M78.8 318.6h0M79.8 321.1h0M80.8 325.6h0M81.8 329.9h0M82.8 334.2h0M83.8 337.0h0M84.8 338.7h0M85.8 340.5h0M86.8 342.9h0M87.8 344.1h0M88.8 342.6h0M89.8 343.2h0M90.8 343.8h0M91.8 346.0h0M92.8 345.5h0M93.8 345.0h0M94.8 344.6h0M95.8 344.2h0M96.8 345.7h0M97.8 344.6h0M98.8 343.6h0M99.8 345.2h0M100.8 343.4h0M101.8 345.7h0M102.8 345.4h0M103.8 343.9h0M104.8 344.6h0M105.8 343.4h0M106.8 344.6h0M107.8 342.8h0M108.8 342.2h0M109.8 343.5h0M110.8 341.8h0M111.8 341.8h0M112.8 340.8h0M113.8 339.4h0M114.8 337.5h0M115.8 335.6h0M116.8 333.3h0M117.8 333.4h0M118.8 331.0h0" stroke="#0000ff" stroke-width="2.1" stroke-linecap="square" fill="none"/>
<path d="M51.8 333.7h0M52.8 334.2h0M53.8 334.1h0M54.8 334.1h0M55.8 333.9h0M56.8 333.9h0M57.8 333.8h0M58.8 333.7h0M59.8 333.7h0M60.8 333.9h0M61.8 333.8h0M62.8 333.5h0M63.8 333.3h0M64.8 333.4h0M65.8 333.1h0M66.8 331.9h0M67.8 330.3h0M68.8 327.3h0M69.8 325.0h0M70.8 320.2h0M71.8 316.4h0M72.8 310.0h0M73.8 303.9h0M74.8 300.2h0M75.8 296.6h0M76.8 296.1h0M77.8 300.1h0M78.8 303.0h0M79.8 306.2h0M80.8 311.9h0M81.8 315.9h0M82.8 320.9h0M83.8 323.4h0M84.8 325.2h0M85.8 326.4h0M86.8 328.3h0M87.8 327.9h0M88.8 329.0h0M89.8 328.4h0M90.8 329.4h0M91.8 330.6h0M92.8 330.3h0M93.8 330.3h0M94.8 329.7h0M95.8 328.6h0M96.8 329.2h0M97.8 329.6h0M98.8 329.6h0M99.8 329.5h0M100.8 330.0h0M101.8 329.0h0M102.8 329.4h0M103.8 329.9h0M104.8 329.0h0M105.8 330.0h0M106.8 328.8h0M107.8 329.5h0M108.8 329.4h0M109.8 327.4h0M110.8 326.2h0M111.8 325.2h0M112.8 325.6h0M113.8 324.0h0M114.8 323.1h0M115.8 320.0h0M116.8 319.1h0M117.8 317.1h0M118.8 315.9h0" stroke="#00f0f0" stroke-width="2.1" stroke-linecap="square" fill="none"/>
<path d="M51.8 318.7h0M52.8 318.8h0M53.8 318.9h0M54.8 318.9h0M55.8 318.9h0M56.8 318.8h0M57.8 318.8h0M58.8 318.7h0M59.8 318.7h0M60.8 318.8h0M61.8 319.2h0M62.8 319.3h0M63.8 319.1h0M64.8 318.6h0M65.8 318.0h0M66.8 317.2h0M67.8 314.9h0M68.8 312.9h0M69.8 308.5h0M70.8 305.7h0M71.8 301.6h0M72.8 295.5h0M73.8 289.2h0M74.8 284.7h0M75.8 281.8h0M76.8 282.8h0M77.8 285.2h0M78.8 288.6h0M79.8 291.9h0M80.8 296.2h0M81.8 300.7h0M82.8 305.4h0M83.8 307.9h0M84.8 308.7h0M85.8 310.6h0M86.8 312.2h0M87.8 314.5h0M88.8 313.9h0M89.8 314.0h0M90.8 313.5h0M91.8 313.9h0M92.8 315.1h0M93.8 314.2h0M94.8 314.9h0M95.8 316.0h0M96.8 315.1h0M97.8 314.2h0M98.8 316.0h0M99.8 314.5h0M100.8 314.8h0M101.8 312.7h0M102.8 313.9h0M103.8 315.1h0M104.8 314.8h0M105.8 314.0h0M106.8 314.3h0M107.8 313.4h0M108.8 313.5h0M109.8 312.4h0M110.8 312.8h0M111.8 311.8h0M112.8 310.9h0M113.8 308.7h0M114.8 307.2h0M115.8 305.1h0M116.8 304.1h0M117.8 302.6h0M118.8 298.9h0" stroke="#ff00ff" stroke-width="2.1" stroke-linecap="square" fill="none"/>
<path d="M51.8 303.9h0M52.8 303.8h0M53.8 303.9h0M54.8 304.0h0M55.8 304.0h0M56.8 303.9h0M57.8 303.8h0M58.8 303.7h0M59.8 304.0h0M60.8 303.8h0M61.8 303.9h0M62.8 303.6h0M63.8 303.8h0M64.8 303.7h0M65.8 303.3h0M66.8 302.5h0M67.8 301.1h0M68.8 298.3h0M69.8 295.3h0M70.8 290.5h0M71.8 286.2h0M72.8 279.5h0M73.8 274.6h0M74.8 269.2h0M75.8 267.8h0M76.8 268.4h0M77.8 269.8h0M78.8 273.6h0M79.8 277.2h0M80.8 282.8h0M81.8 286.9h0M82.8 291.1h0M83.8 294.0h0M84.8 295.2h0M85.8 296.9h0M86.8 297.6h0M87.8 297.8h0M88.8 298.8h0M89.8 299.6h0M90.8 298.2h0M91.8 299.1h0M92.8 299.3h0M93.8 299.7h0M94.8 301.2h0M95.8 301.8h0M96.8 299.4h0M97.8 301.1h0M98.8 300.0h0M99.8 300.6h0M100.8 299.0h0M101.8 300.7h0M102.8 300.4h0M103.8 298.9h0M104.8 298.7h0M105.8 298.8h0M106.8 299.8h0M107.8 300.9h0M108.8 300.4h0M109.8 297.5h0M110.8 297.3h0M111.8 296.4h0M112.8 294.9h0M113.8 294.5h0M114.8 290.7h0M115.8 290.7h0M116.8 288.9h0M117.8 287.6h0M118.8 284.0h0" stroke="#ff8000" stroke-width="2.1" stroke-linecap="square" fill="none"/>
<path d="M51.8 288.9h0M52.8 288.8h0M53.8 288.9h0M54.8 288.8h0M55.8 289.1h0M56.8 288.8h0M57.8 288.9h0M58.8 288.7h0M59.8 288.9h0M60.8 288.9h0M61.8 289.2h0M62.8 289.3h0M63.8 289.1h0M64.8 288.9h0M65.8 288.5h0M66.8 287.7h0M67.8 286.0h0M68.8 284.4h0M69.8 281.3h0M70.8 276.3h0M71.8 271.2h0M72.8 267.4h0M73.8 260.6h0M74.8 256.4h0M75.8 253.5h0M76.8 252.9h0M77.8 255.4h0M78.8 259.4h0M79.8 264.2h0M80.8 268.0h0M81.8 273.4h0M82.8 277.0h0M83.8 279.8h0M84.8 282.6h0M85.8 282.9h0M86.8 285.5h0M87.8 284.7h0M88.8 284.5h0M89.8 284.2h0M90.8 284.2h0M91.8 284.8h0M92.8 285.5h0M93.8 286.0h0M94.8 285.8h0M95.8 283.5h0M96.8 284.5h0M97.8 284.3h0M98.8 284.5h0M99.8 285.8h0M100.8 285.2h0M101.8 285.0h0M102.8 284.5h0M103.8 284.5h0M104.8 285.5h0M105.8 284.8h0M106.8 284.0h0M107.8 284.6h0M108.8 284.7h0M109.8 282.2h0M110.8 281.5h0M111.8 280.3h0M112.8 277.6h0M113.8 277.6h0M114.8 277.7h0M115.8 276.0h0M116.8 273.0h0M117.8 272.3h0M118.8 271.0h0" stroke="#808000" stroke-width="2.1" stroke-linecap="square" fill="none"/>
<path d="M51.8 274.1h0M52.8 274.0h0M53.8 274.1h0M54.8 274.1h0M55.8 274.3h0M56.8 274.4h0M57.8 274.3h0M58.8 274.3h0M59.8 274.2h0M60.8 274.3h0M61.8 274.2h0M62.8 274.1h0M63.8 273.8h0M64.8 273.9h0M65.8 273.7h0M66.8 273.0h0M67.8 272.1h0M68.8 269.0h0M69.8 266.6h0M70.8 260.7h0M71.8 256.1h0M72.8 251.8h0M73.8 244.1h0M74.8 240.6h0M75.8 236.9h0M76.8 237.8h0M77.8 239.2h0M78.8 243.5h0M79.8 247.8h0M80.8 254.6h0M81.8 257.5h0M82.8 262.0h0M83.8 265.5h0M84.8 267.4h0M85.8 269.2h0M86.8 267.8h0M87.8 269.9h0M88.8 268.5h0M89.8 268.4h0M90.8 269.0h0M91.8 269.7h0M92.8 268.8h0M93.8 269.6h0M94.8 269.1h0M95.8 270.1h0M96.8 269.5h0M97.8 270.5h0M98.8 271.8h0M99.8 271.0h0M100.8 270.4h0M101.8 268.7h0M102.8 270.4h0M103.8 267.9h0M104.8 268.7h0M105.8 270.7h0M106.8 269.8h0M107.8 270.6h0M108.8 269.6h0M109.8 269.6h0M110.8 268.2h0M111.8 266.3h0M112.8 264.8h0M113.8 263.9h0M114.8 262.6h0M115.8 260.2h0M116.8 256.9h0M117.8 256.3h0M118.8 253.9h0" stroke="#000090" stroke-width="2.1" stroke-linecap="square" fill="none"/>
<path d="M51.8 259.3h0M52.8 259.2h0M53.8 259.2h0M54.8 258.9h0M55.8 258.8h0M56.8 258.7h0M57.8 258.8h0M58.8 258.9h0M59.8 259.0h0M60.8 259.1h0M61.8 259.2h0M62.8 259.3h0M63.8 259.2h0M64.8 259.0h0M65.8 258.6h0M66.8 257.8h0M67.8 255.6h0M68.8 253.6h0M69.8 251.0h0M70.8 247.3h0M71.8 243.4h0M72.8 238.2h0M73.8 230.8h0M74.8 226.1h0M75.8 221.6h0M76.8 222.2h0M77.8 225.9h0M78.8 229.0h0M79.8 234.3h0M80.8 238.5h0M81.8 244.1h0M82.8 247.8h0M83.8 249.0h0M84.8 252.4h0M85.8 253.4h0M86.8 253.9h0M87.8 255.2h0M88.8 255.7h0M89.8 255.1h0M90.8 254.1h0M91.8 255.0h0M92.8 255.1h0M93.8 254.0h0M94.8 254.8h0M95.8 254.8h0M96.8 256.2h0M97.8 255.0h0M98.8 254.6h0M99.8 255.8h0M100.8 255.4h0M101.8 255.6h0M102.8 255.7h0M103.8 254.9h0M104.8 254.8h0M105.8 255.5h0M106.8 255.7h0M107.8 254.8h0M108.8 254.5h0M109.8 254.0h0M110.8 251.7h0M111.8 250.2h0M112.8 249.8h0M113.8 247.0h0M114.8 247.1h0M115.8 244.7h0M116.8 243.1h0M117.8 240.5h0M118.8 238.8h0" stroke="#b000b0" stroke-width="2.1" stroke-linecap="square" fill="none"/>
<path d="M132.8 393.9h0M133.8 394.1h0M134.8 394.1h0M135.8 394.5h0M136.8 394.3h0M137.8 394.2h0M138.8 394.0h0M139.8 394.1h0M140.8 394.1h0M141.8 394.2h0M142.8 394.1h0M143.8 394.0h0M144.8 393.9h0M145.8 394.0h0M146.8 393.7h0M147.8 393.2h0M148.8 391.8h0M149.8 391.1h0M150.8 387.0h0M151.8 385.4h0M152.8 384.1h0M153.8 381.7h0M154.8 377.5h0M155.8 372.8h0M156.8 370.6h0M157.8 370.5h0M158.8 368.6h0M159.8 369.3h0M160.8 370.5h0M161.8 372.8h0M162.8 374.6h0M163.8 379.3h0M164.8 381.3h0M165.8 385.1h0M166.8 385.8h0M167.8 388.2h0M168.8 387.9h0M169.8 389.4h0M170.8 389.7h0M171.8 389.7h0M172.8 390.5h0M173.8 389.3h0M174.8 389.5h0M175.8 390.0h0M176.8 388.8h0M177.8 389.6h0M178.8 389.4h0M179.8 392.0h0M180.8 391.5h0M181.8 391.6h0M182.8 391.7h0M183.8 388.9h0M184.8 389.4h0M185.8 389.8h0M186.8 390.0h0M187.8 389.8h0M188.8 389.5h0M189.8 387.8h0M190.8 388.9h0M191.8 389.8h0M192.8 388.8h0M193.8 388.1h0M194.8 387.9h0M195.8 386.2h0M196.8 387.1h0M197.8 386.7h0M198.8 384.8h0M199.8 382.9h0" stroke="#000000" stroke-width="2.1" stroke-linecap="square" fill="none"/>
<path d="M132.8 383.0h0M133.8 383.0h0M134.8 382.8h0M135.8 383.0h0M136.8 382.9h0M137.8 383.0h0M138.8 383.0h0M139.8 383.1h0M140.8 383.2h0M141.8 383.3h0M142.8 383.4h0M143.8 383.6h0M144.8 383.3h0M145.8 383.2h0M146.8 382.5h0M147.8 382.0h0M148.8 380.4h0M149.8 378.9h0M150.8 377.0h0M151.8 374.2h0M152.8 371.8h0M153.8 369.2h0M154.8 365.0h0M155.8 362.1h0M156.8 359.1h0M157.8 358.1h0M158.8 358.9h0M159.8 358.9h0M160.8 362.2h0M161.8 365.0h0M162.8 367.8h0M163.8 370.6h0M164.8 372.7h0M165.8 373.1h0M166.8 375.3h0M167.8 377.4h0M168.8 378.1h0M169.8 377.6h0M170.8 377.9h0M171.8 377.7h0M172.8 378.1h0M173.8 378.0h0M174.8 378.9h0M175.8 379.9h0M176.8 380.9h0M177.8 378.0h0M178.8 380.0h0M179.8 377.9h0M180.8 378.5h0M181.8 378.9h0M182.8 379.7h0M183.8 379.3h0M184.8 378.5h0M185.8 379.3h0M186.8 379.4h0M187.8 378.8h0M188.8 379.2h0M189.8 378.8h0M190.8 378.2h0M191.8 378.2h0M192.8 378.1h0M193.8 378.0h0M194.8 376.7h0M195.8 375.8h0M196.8 373.6h0M197.8 373.5h0M198.8 373.0h0M199.8 373.5h0" stroke="#ff0000" stroke-width="2.1" stroke-linecap="square" fill="none"/>
<path d="M132.8 371.9h0M133.8 372.1h0M134.8 372.3h0M135.8 372.1h0M136.8 372.1h0M137.8 372.0h0M138.8 372.0h0M139.8 372.0h0M140.8 371.8h0M141.8 371.8h0M142.8 371.9h0M143.8 372.0h0M144.8 372.0h0M145.8 371.7h0M146.8 371.6h0M147.8 371.1h0M148.8 369.5h0M149.8 369.0h0M150.8 366.2h0M151.8 364.1h0M152.8 361.1h0M153.8 357.2h0M154.8 353.9h0M155.8 350.9h0M156.8 347.1h0M157.8 345.9h0M158.8 347.9h0M159.8 349.5h0M160.8 350.2h0M161.8 353.5h0M162.8 356.1h0M163.8 359.0h0M164.8 361.2h0M165.8 363.7h0M166.8 365.3h0M167.8 366.9h0M168.8 367.4h0M169.8 367.5h0M170.8 366.0h0M171.8 367.1h0M172.8 366.5h0M173.8 366.8h0M174.8 367.6h0M175.8 366.4h0M176.8 368.6h0M177.8 367.9h0M178.8 367.9h0M179.8 367.7h0M180.8 366.9h0M181.8 366.9h0M182.8 367.5h0M183.8 367.7h0M184.8 368.6h0M185.8 368.3h0M186.8 368.6h0M187.8 367.1h0M188.8 368.0h0M189.8 367.7h0M190.8 368.0h0M191.8 367.2h0M192.8 366.7h0M193.8 366.1h0M194.8 365.7h0M195.8 365.0h0M196.8 363.7h0M197.8 362.9h0M198.8 361.8h0M199.8 361.6h0" stroke="#00e000" stroke-width="2.1" stroke-linecap="square" fill="none"/>
<path d="M132.8 361.0h0M133.8 360.9h0M134.8 360.8h0M135.8 360.9h0M136.8 360.8h0M137.8 360.8h0M138.8 360.8h0M139.8 360.9h0M140.8 361.0h0M141.8 360.9h0M142.8 360.8h0M143.8 360.8h0M144.8 360.9h0M145.8 360.8h0M146.8 360.4h0M147.8 359.8h0M148.8 358.9h0M149.8 357.3h0M150.8 354.6h0M151.8 354.6h0M152.8 349.5h0M153.8 346.4h0M154.8 343.1h0M155.8 339.0h0M156.8 335.5h0M157.8 334.7h0M158.8 336.3h0M159.8 336.1h0M160.8 339.9h0M161.8 342.8h0M162.8 345.4h0M163.8 349.2h0M164.8 351.7h0M165.8 351.9h0M166.8 353.1h0M167.8 354.3h0M168.8 356.8h0M169.8 355.5h0M170.8 356.6h0M171.8 356.4h0M172.8 356.5h0M173.8 357.1h0M174.8 356.5h0M175.8 355.8h0M176.8 355.7h0M177.8 355.7h0M178.8 356.3h0M179.8 355.3h0M180.8 356.8h0M181.8 356.7h0M182.8 357.1h0M183.8 356.4h0M184.8 356.6h0M185.8 355.9h0M186.8 355.9h0M187.8 357.1h0M188.8 357.3h0M189.8 356.7h0M190.8 355.7h0M191.8 355.0h0M192.8 355.3h0M193.8 354.8h0M194.8 354.0h0M195.8 353.3h0M196.8 352.0h0M197.8 351.3h0M198.8 349.8h0M199.8 349.4h0" stroke="#0000ff" stroke-width="2.1" stroke-linecap="square" fill="none"/>
<path d="M132.8 349.7h0M133.8 349.6h0M134.8 349.7h0M135.8 349.7h0M136.8 349.6h0M137.8 349.4h0M138.8 349.4h0M139.8 349.3h0M140.8 349.4h0M141.8 349.7h0M142.8 349.8h0M143.8 349.8h0M144.8 349.7h0M145.8 349.7h0M146.8 349.5h0M147.8 348.9h0M148.8 347.3h0M149.8 345.3h0M150.8 344.4h0M151.8 340.9h0M152.8 338.4h0M153.8 334.9h0M154.8 331.1h0M155.8 328.3h0M156.8 326.0h0M157.8 326.3h0M158.8 325.1h0M159.8 327.1h0M160.8 329.0h0M161.8 332.1h0M162.8 335.0h0M163.8 337.4h0M164.8 338.9h0M165.8 342.5h0M166.8 344.0h0M167.8 343.7h0M168.8 345.5h0M169.8 345.3h0M170.8 345.8h0M171.8 345.9h0M172.8 346.7h0M173.8 345.5h0M174.8 345.6h0M175.8 345.9h0M176.8 344.5h0M177.8 345.5h0M178.8 345.0h0M179.8 344.7h0M180.8 345.3h0M181.8 346.7h0M182.8 345.6h0M183.8 344.8h0M184.8 345.4h0M185.8 345.7h0M186.8 346.5h0M187.8 345.9h0M188.8 346.2h0M189.8 344.8h0M190.8 345.1h0M191.8 344.5h0M192.8 344.0h0M193.8 343.8h0M194.8 343.7h0M195.8 342.0h0M196.8 342.4h0M197.8 341.8h0M198.8 339.8h0M199.8 338.7h0" stroke="#00f0f0" stroke-width="2.1" stroke-linecap="square" fill="none"/>
<path d="M132.8 338.8h0M133.8 338.6h0M134.8 338.6h0M135.8 338.5h0M136.8 338.6h0M137.8 338.8h0M138.8 338.6h0M139.8 338.8h0M140.8 338.7h0M141.8 338.8h0M142.8 338.8h0M143.8 338.7h0M144.8 338.5h0M145.8 338.1h0M146.8 337.9h0M147.8 337.5h0M148.8 337.3h0M149.8 335.3h0M150.8 334.6h0M151.8 330.4h0M152.8 328.4h0M153.8 323.6h0M154.8 319.5h0M155.8 317.2h0M156.8 314.9h0M157.8 314.1h0M158.8 314.2h0M159.8 315.9h0M160.8 317.1h0M161.8 321.3h0M162.8 324.3h0M163.8 327.3h0M164.8 329.9h0M165.8 330.6h0M166.8 332.8h0M167.8 334.0h0M168.8 334.3h0M169.8 334.4h0M170.8 334.7h0M171.8 334.3h0M172.8 333.4h0M173.8 333.9h0M174.8 333.2h0M175.8 334.0h0M176.8 334.8h0M177.8 334.3h0M178.8 335.4h0M179.8 333.4h0M180.8 335.3h0M181.8 334.5h0M182.8 335.7h0M183.8 334.9h0M184.8 334.9h0M185.8 334.9h0M186.8 334.5h0M187.8 333.9h0M188.8 333.7h0M189.8 334.2h0M190.8 333.6h0M191.8 333.7h0M192.8 332.7h0M193.8 332.8h0M194.8 332.5h0M195.8 331.5h0M196.8 330.9h0M197.8 329.8h0M198.8 327.5h0M199.8 327.1h0" stroke="#ff00ff" stroke-width="2.1" stroke-linecap="square" fill="none"/>
<path d="M132.8 328.0h0M133.8 327.6h0M134.8 327.7h0M135.8 327.8h0M136.8 327.9h0M137.8 327.8h0M138.8 327.7h0M139.8 327.4h0M140.8 327.5h0M141.8 327.4h0M142.8 327.7h0M143.8 327.6h0M144.8 327.7h0M145.8 327.7h0M146.8 327.5h0M147.8 326.9h0M148.8 324.6h0M149.8 323.0h0M150.8 322.3h0M151.8 319.7h0M152.8 317.0h0M153.8 312.6h0M154.8 308.4h0M155.8 304.9h0M156.8 302.9h0M157.8 303.1h0M158.8 303.0h0M159.8 303.8h0M160.8 307.3h0M161.8 311.3h0M162.8 313.3h0M163.8 315.1h0M164.8 319.0h0M165.8 320.7h0M166.8 321.6h0M167.8 323.0h0M168.8 323.9h0M169.8 323.3h0M170.8 324.3h0M171.8 323.6h0M172.8 324.0h0M173.8 324.5h0M174.8 323.3h0M175.8 323.8h0M176.8 323.9h0M177.8 324.2h0M178.8 323.5h0M179.8 324.0h0M180.8 322.7h0M181.8 323.8h0M182.8 324.1h0M183.8 324.2h0M184.8 323.8h0M185.8 323.5h0M186.8 323.4h0M187.8 323.8h0M188.8 323.2h0M189.8 323.3h0M190.8 322.8h0M191.8 322.4h0M192.8 321.1h0M193.8 320.8h0M194.8 320.1h0M195.8 319.9h0M196.8 319.2h0M197.8 317.5h0M198.8 316.2h0M199.8 315.4h0" stroke="#ff8000" stroke-width="2.1" stroke-linecap="square" fill="none"/>
<path d="M132.8 316.6h0M133.8 316.4h0M134.8 316.3h0M135.8 316.3h0M136.8 316.4h0M137.8 316.4h0M138.8 316.4h0M139.8 316.2h0M140.8 316.5h0M141.8 316.3h0M142.8 316.5h0M143.8 316.2h0M144.8 316.2h0M145.8 316.1h0M146.8 315.7h0M147.8 315.3h0M148.8 313.0h0M149.8 312.8h0M150.8 310.1h0M151.8 307.2h0M152.8 304.7h0M153.8 300.3h0M154.8 297.6h0M155.8 294.7h0M156.8 292.5h0M157.8 292.5h0M158.8 292.5h0M159.8 294.9h0M160.8 297.5h0M161.8 301.1h0M162.8 303.2h0M163.8 304.1h0M164.8 307.0h0M165.8 310.1h0M166.8 312.7h0M167.8 311.8h0M168.8 311.8h0M169.8 310.7h0M170.8 311.5h0M171.8 310.4h0M172.8 312.0h0M173.8 312.7h0M174.8 312.1h0M175.8 312.3h0M176.8 312.1h0M177.8 313.2h0M178.8 313.8h0M179.8 313.8h0M180.8 312.7h0M181.8 312.8h0M182.8 314.3h0M183.8 312.1h0M184.8 313.6h0M185.8 311.8h0M186.8 313.3h0M187.8 311.9h0M188.8 312.4h0M189.8 312.5h0M190.8 311.4h0M191.8 309.9h0M192.8 310.0h0M193.8 309.6h0M194.8 310.4h0M195.8 309.1h0M196.8 307.0h0M197.8 306.4h0M198.8 306.2h0M199.8 304.2h0" stroke="#808000" stroke-width="2.1" stroke-linecap="square" fill="none"/>
<path d="M132.8 305.2h0M133.8 305.1h0M134.8 305.2h0M135.8 305.3h0M136.8 305.5h0M137.8 305.4h0M138.8 305.5h0M139.8 305.2h0M140.8 305.4h0M141.8 305.4h0M142.8 305.5h0M143.8 305.3h0M144.8 305.2h0M145.8 305.1h0M146.8 305.0h0M147.8 304.4h0M148.8 303.9h0M149.8 302.5h0M150.8 298.3h0M151.8 297.5h0M152.8 293.3h0M153.8 292.2h0M154.8 287.7h0M155.8 284.5h0M156.8 281.4h0M157.8 279.9h0M158.8 279.9h0M159.8 283.6h0M160.8 285.2h0M161.8 289.5h0M162.8 291.6h0M163.8 294.6h0M164.8 296.3h0M165.8 297.5h0M166.8 298.3h0M167.8 299.6h0M168.8 300.9h0M169.8 299.3h0M170.8 300.8h0M171.8 299.2h0M172.8 301.3h0M173.8 299.6h0M174.8 301.1h0M175.8 300.7h0M176.8 300.8h0M177.8 299.7h0M178.8 302.2h0M179.8 300.8h0M180.8 301.8h0M181.8 301.7h0M182.8 300.9h0M183.8 300.6h0M184.8 302.9h0M185.8 302.2h0M186.8 301.0h0M187.8 301.0h0M188.8 302.1h0M189.8 300.6h0M190.8 301.4h0M191.8 300.3h0M192.8 298.9h0M193.8 299.2h0M194.8 297.5h0M195.8 298.4h0M196.8 295.6h0M197.8 295.8h0M198.8 295.2h0M199.8 291.9h0" stroke="#000090" stroke-width="2.1" stroke-linecap="square" fill="none"/>
<path d="M132.8 294.3h0M133.8 294.3h0M134.8 294.6h0M135.8 294.7h0M136.8 294.5h0M137.8 294.4h0M138.8 294.4h0M139.8 294.4h0M140.8 294.3h0M141.8 294.1h0M142.8 294.3h0M143.8 294.3h0M144.8 294.6h0M145.8 294.4h0M146.8 294.3h0M147.8 293.4h0M148.8 291.6h0M149.8 289.1h0M150.8 288.2h0M151.8 285.3h0M152.8 282.9h0M153.8 279.6h0M154.8 275.7h0M155.8 271.1h0M156.8 269.4h0M157.8 268.6h0M158.8 268.6h0M159.8 273.0h0M160.8 275.5h0M161.8 278.6h0M162.8 281.9h0M163.8 284.0h0M164.8 285.6h0M165.8 288.3h0M166.8 288.6h0M167.8 290.4h0M168.8 289.0h0M169.8 290.7h0M170.8 290.7h0M171.8 290.8h0M172.8 290.7h0M173.8 289.2h0M174.8 288.1h0M175.8 289.5h0M176.8 289.9h0M177.8 291.3h0M178.8 289.9h0M179.8 290.2h0M180.8 289.8h0M181.8 290.0h0M182.8 289.6h0M183.8 290.0h0M184.8 290.1h0M185.8 289.0h0M186.8 289.7h0M187.8 289.4h0M188.8 289.3h0M189.8 290.2h0M190.8 288.8h0M191.8 290.2h0M192.8 288.9h0M193.8 288.2h0M194.8 286.6h0M195.8 286.2h0M196.8 286.3h0M197.8 284.7h0M198.8 283.2h0M199.8 280.0h0" stroke="#b000b0" stroke-width="2.1" stroke-linecap="square" fill="none"/>
<path d="M132.8 283.2h0M133.8 283.6h0M134.8 283.5h0M135.8 283.4h0M136.8 283.3h0M137.8 283.2h0M138.8 283.4h0M139.8 283.5h0M140.8 283.4h0M141.8 283.1h0M142.8 283.1h0M143.8 283.3h0M144.8 283.4h0M145.8 283.2h0M146.8 282.8h0M147.8 282.1h0M148.8 280.9h0M149.8 279.0h0M150.8 276.8h0M151.8 274.7h0M152.8 272.6h0M153.8 267.9h0M154.8 265.7h0M155.8 261.2h0M156.8 259.4h0M157.8 258.1h0M158.8 258.4h0M159.8 259.7h0M160.8 263.6h0M161.8 266.8h0M162.8 271.0h0M163.8 272.9h0M164.8 274.2h0M165.8 277.2h0M166.8 278.6h0M167.8 277.9h0M168.8 278.6h0M169.8 278.9h0M170.8 278.0h0M171.8 278.4h0M172.8 279.6h0M173.8 279.5h0M174.8 279.9h0M175.8 279.1h0M176.8 280.1h0M177.8 279.1h0M178.8 280.0h0M179.8 279.8h0M180.8 280.7h0M181.8 279.5h0M182.8 279.5h0M183.8 280.3h0M184.8 280.7h0M185.8 279.2h0M186.8 279.6h0M187.8 280.3h0M188.8 279.1h0M189.8 279.3h0M190.8 277.9h0M191.8 278.1h0M192.8 276.1h0M193.8 274.6h0M194.8 274.5h0M195.8 275.4h0M196.8 272.6h0M197.8 271.7h0M198.8 270.7h0M199.8 269.5h0" stroke="#b00000" stroke-width="2.1" stroke-linecap="square" fill="none"/>
<path d="M132.8 272.1h0M133.8 272.0h0M134.8 272.1h0M135.8 272.3h0M136.8 272.5h0M137.8 272.5h0M138.8 272.3h0M139.8 272.3h0M140.8 272.4h0M141.8 272.3h0M142.8 272.3h0M143.8 271.9h0M144.8 271.8h0M145.8 271.4h0M146.8 271.3h0M147.8 270.8h0M148.8 269.4h0M149.8 267.7h0M150.8 265.7h0M151.8 264.0h0M152.8 259.7h0M153.8 254.8h0M154.8 252.6h0M155.8 250.2h0M156.8 248.2h0M157.8 247.3h0M158.8 249.0h0M159.8 250.5h0M160.8 252.9h0M161.8 257.0h0M162.8 260.1h0M163.8 262.1h0M164.8 263.7h0M165.8 264.4h0M166.8 266.2h0M167.8 266.1h0M168.8 267.5h0M169.8 267.4h0M170.8 268.4h0M171.8 267.6h0M172.8 267.5h0M173.8 267.0h0M174.8 268.6h0M175.8 268.4h0M176.8 267.6h0M177.8 268.0h0M178.8 269.5h0M179.8 268.5h0M180.8 268.5h0M181.8 268.8h0M182.8 267.9h0M183.8 268.5h0M184.8 268.2h0M185.8 267.6h0M186.8 267.4h0M187.8 266.9h0M188.8 264.8h0M189.8 266.3h0M190.8 267.2h0M191.8 266.3h0M192.8 266.5h0M193.8 264.4h0M194.8 264.3h0M195.8 263.4h0M196.8 261.5h0M197.8 259.8h0M198.8 258.6h0M199.8 258.0h0" stroke="#008000" stroke-width="2.1" stroke-linecap="square" fill="none"/>
<path d="M132.8 261.0h0M133.8 261.3h0M134.8 261.1h0M135.8 261.0h0M136.8 260.9h0M137.8 260.9h0M138.8 260.8h0M139.8 261.0h0M140.8 261.0h0M141.8 261.1h0M142.8 260.7h0M143.8 260.7h0M144.8 260.8h0M145.8 261.0h0M146.8 260.7h0M147.8 260.1h0M148.8 258.9h0M149.8 258.2h0M150.8 254.8h0M151.8 252.5h0M152.8 249.5h0M153.8 245.0h0M154.8 241.2h0M155.8 238.3h0M156.8 236.1h0M157.8 235.1h0M158.8 237.0h0M159.8 240.2h0M160.8 243.8h0M161.8 247.3h0M162.8 248.2h0M163.8 252.3h0M164.8 254.0h0M165.8 256.2h0M166.8 254.8h0M167.8 256.6h0M168.8 257.6h0M169.8 257.8h0M170.8 257.7h0M171.8 257.2h0M172.8 255.9h0M173.8 256.4h0M174.8 256.7h0M175.8 256.6h0M176.8 256.9h0M177.8 257.1h0M178.8 258.5h0M179.8 258.3h0M180.8 258.3h0M181.8 257.8h0M182.8 257.1h0M183.8 256.0h0M184.8 257.4h0M185.8 257.5h0M186.8 257.3h0M187.8 256.2h0M188.8 255.4h0M189.8 256.6h0M190.8 255.7h0M191.8 254.2h0M192.8 254.5h0M193.8 253.4h0M194.8 253.4h0M195.8 252.2h0M196.8 251.8h0M197.8 249.9h0M198.8 248.9h0M199.8 247.5h0" stroke="#009090" stroke-width="2.1" stroke-linecap="square" fill="none"/>
<path d="M132.8 249.9h0M133.8 250.0h0M134.8 249.9h0M135.8 250.0h0M136.8 250.0h0M137.8 249.8h0M138.8 249.7h0M139.8 249.8h0M140.8 249.8h0M141.8 249.6h0M142.8 249.5h0M143.8 249.6h0M144.8 249.6h0M145.8 249.6h0M146.8 249.3h0M147.8 249.0h0M148.8 247.8h0M149.8 246.4h0M150.8 244.6h0M151.8 240.6h0M152.8 239.2h0M153.8 232.8h0M154.8 230.3h0M155.8 225.7h0M156.8 224.5h0M157.8 224.1h0M158.8 226.1h0M159.8 228.9h0M160.8 231.9h0M161.8 234.8h0M162.8 238.2h0M163.8 240.8h0M164.8 243.0h0M165.8 244.2h0M166.8 245.5h0M167.8 246.3h0M168.8 245.3h0M169.8 244.1h0M170.8 245.2h0M171.8 245.8h0M172.8 244.9h0M173.8 246.0h0M174.8 245.8h0M175.8 245.9h0M176.8 246.8h0M177.8 244.9h0M178.8 246.2h0M179.8 244.6h0M180.8 245.6h0M181.8 245.8h0M182.8 245.3h0M183.8 245.1h0M184.8 246.0h0M185.8 245.6h0M186.8 245.6h0M187.8 245.7h0M188.8 244.6h0M189.8 244.3h0M190.8 243.6h0M191.8 244.1h0M192.8 243.1h0M193.8 242.3h0M194.8 243.1h0M195.8 240.2h0M196.8 239.7h0M197.8 237.6h0M198.8 237.4h0M199.8 234.9h0" stroke="#0000c0" stroke-width="2.1" stroke-linecap="square" fill="none"/>
<path d="M213.8 394.5h0M214.8 394.3h0M215.8 394.4h0M216.8 394.1h0M217.8 394.2h0M218.8 394.2h0M219.8 394.5h0M220.8 394.5h0M221.8 394.1h0M222.8 394.1h0M223.8 393.9h0M224.8 394.2h0M225.8 394.1h0M226.8 393.9h0M227.8 393.3h0M228.8 392.2h0M229.8 391.0h0M230.8 387.2h0M231.8 381.9h0M232.8 380.2h0M233.8 374.3h0M234.8 372.7h0M235.8 368.8h0M236.8 364.7h0M237.8 364.9h0M238.8 363.4h0M239.8 365.9h0M240.8 367.1h0M241.8 369.7h0M242.8 373.7h0M243.8 377.5h0M244.8 381.3h0M245.8 383.7h0M246.8 386.0h0M247.8 387.3h0M248.8 387.6h0M249.8 387.3h0M250.8 389.0h0M251.8 389.5h0M252.8 388.8h0M253.8 389.9h0M254.8 390.8h0M255.8 390.3h0M256.8 391.5h0M257.8 389.1h0M258.8 391.1h0M259.8 389.2h0M260.8 389.6h0M261.8 388.4h0M262.8 391.2h0M263.8 389.2h0M264.8 390.1h0M265.8 388.4h0M266.8 390.0h0M267.8 390.4h0M268.8 390.6h0M269.8 389.5h0M270.8 391.7h0M271.8 389.1h0M272.8 389.4h0M273.8 388.1h0M274.8 387.4h0M275.8 387.3h0M276.8 386.7h0M277.8 385.8h0M278.8 386.0h0M279.8 384.7h0M280.8 384.6h0" stroke="#000000" stroke-width="2.1" stroke-linecap="square" fill="none"/>
<path d="M213.8 381.5h0M214.8 381.3h0M215.8 381.4h0M216.8 381.5h0M217.8 381.6h0M218.8 381.5h0M219.8 381.3h0M220.8 381.3h0M221.8 381.3h0M222.8 381.3h0M223.8 381.1h0M224.8 381.0h0M225.8 381.2h0M226.8 381.1h0M227.8 380.4h0M228.8 379.2h0M229.8 376.7h0M230.8 374.7h0M231.8 371.6h0M232.8 365.9h0M233.8 363.4h0M234.8 360.7h0M235.8 358.0h0M236.8 353.9h0M237.8 351.3h0M238.8 350.5h0M239.8 351.1h0M240.8 354.3h0M241.8 358.5h0M242.8 361.6h0M243.8 365.2h0M244.8 368.1h0M245.8 370.0h0M246.8 372.2h0M247.8 374.6h0M248.8 375.8h0M249.8 376.0h0M250.8 376.7h0M251.8 376.9h0M252.8 377.1h0M253.8 376.9h0M254.8 376.3h0M255.8 378.3h0M256.8 377.7h0M257.8 378.4h0M258.8 377.3h0M259.8 379.0h0M260.8 378.7h0M261.8 377.8h0M262.8 377.8h0M263.8 377.0h0M264.8 376.9h0M265.8 376.6h0M266.8 377.2h0M267.8 376.7h0M268.8 377.3h0M269.8 376.1h0M270.8 376.4h0M271.8 376.6h0M272.8 378.3h0M273.8 375.1h0M274.8 375.5h0M275.8 375.3h0M276.8 373.8h0M277.8 372.3h0M278.8 372.3h0M279.8 370.2h0M280.8 369.0h0" stroke="#ff0000" stroke-width="2.1" stroke-linecap="square" fill="none"/>
<path d="M213.8 368.7h0M214.8 368.4h0M215.8 368.5h0M216.8 368.6h0M217.8 368.8h0M218.8 368.9h0M219.8 368.7h0M220.8 368.5h0M221.8 368.4h0M222.8 368.5h0M223.8 368.6h0M224.8 368.4h0M225.8 368.4h0M226.8 368.2h0M227.8 367.8h0M228.8 366.5h0M229.8 364.1h0M230.8 361.6h0M231.8 360.0h0M232.8 355.2h0M233.8 350.7h0M234.8 344.9h0M235.8 342.8h0M236.8 339.7h0M237.8 338.6h0M238.8 339.7h0M239.8 340.2h0M240.8 343.9h0M241.8 346.0h0M242.8 349.8h0M243.8 353.0h0M244.8 355.9h0M245.8 359.3h0M246.8 360.9h0M247.8 362.6h0M248.8 363.1h0M249.8 364.5h0M250.8 363.9h0M251.8 363.4h0M252.8 363.6h0M253.8 364.1h0M254.8 364.0h0M255.8 362.7h0M256.8 363.1h0M257.8 362.4h0M258.8 363.6h0M259.8 363.6h0M260.8 364.5h0M261.8 362.9h0M262.8 363.9h0M263.8 363.5h0M264.8 365.3h0M265.8 365.0h0M266.8 363.9h0M267.8 363.4h0M268.8 364.3h0M269.8 365.1h0M270.8 362.8h0M271.8 361.7h0M272.8 362.4h0M273.8 361.8h0M274.8 361.5h0M275.8 361.3h0M276.8 360.4h0M277.8 359.3h0M278.8 358.8h0M279.8 359.3h0M280.8 357.2h0" stroke="#00e000" stroke-width="2.1" stroke-linecap="square" fill="none"/>
<path d="M213.8 355.6h0M214.8 355.7h0M215.8 355.9h0M216.8 356.0h0M217.8 356.0h0M218.8 355.8h0M219.8 355.8h0M220.8 355.8h0M221.8 355.8h0M222.8 355.6h0M223.8 355.6h0M224.8 355.5h0M225.8 355.4h0M226.8 355.1h0M227.8 354.9h0M228.8 354.1h0M229.8 352.5h0M230.8 349.4h0M231.8 346.6h0M232.8 342.4h0M233.8 339.2h0M234.8 335.4h0M235.8 331.5h0M236.8 327.8h0M237.8 326.4h0M238.8 325.3h0M239.8 327.0h0M240.8 329.6h0M241.8 331.3h0M242.8 336.2h0M243.8 339.6h0M244.8 342.7h0M245.8 344.6h0M246.8 347.4h0M247.8 349.3h0M248.8 350.3h0M249.8 350.3h0M250.8 350.9h0M251.8 352.2h0M252.8 351.4h0M253.8 352.6h0M254.8 351.5h0M255.8 352.8h0M256.8 352.0h0M257.8 351.4h0M258.8 352.2h0M259.8 350.3h0M260.8 350.8h0M261.8 351.0h0M262.8 351.1h0M263.8 350.7h0M264.8 350.7h0M265.8 351.7h0M266.8 351.9h0M267.8 352.5h0M268.8 352.3h0M269.8 351.6h0M270.8 351.2h0M271.8 351.2h0M272.8 349.9h0M273.8 350.2h0M274.8 349.1h0M275.8 348.3h0M276.8 348.7h0M277.8 347.8h0M278.8 346.4h0M279.8 345.5h0M280.8 344.0h0" stroke="#0000ff" stroke-width="2.1" stroke-linecap="square" fill="none"/>
<path d="M213.8 343.0h0M214.8 342.9h0M215.8 342.7h0M216.8 342.6h0M217.8 342.5h0M218.8 342.9h0M219.8 342.9h0M220.8 342.9h0M221.8 342.8h0M222.8 342.6h0M223.8 342.8h0M224.8 342.8h0M225.8 343.0h0M226.8 342.8h0M227.8 342.2h0M228.8 341.3h0M229.8 340.0h0M230.8 336.7h0M231.8 334.1h0M232.8 329.5h0M233.8 325.0h0M234.8 320.0h0M235.8 316.6h0M236.8 313.7h0M237.8 312.6h0M238.8 311.3h0M239.8 313.8h0M240.8 316.3h0M241.8 319.4h0M242.8 323.2h0M243.8 328.5h0M244.8 330.5h0M245.8 333.2h0M246.8 335.8h0M247.8 336.8h0M248.8 338.1h0M249.8 337.5h0M250.8 338.5h0M251.8 338.7h0M252.8 339.1h0M253.8 337.9h0M254.8 337.8h0M255.8 338.7h0M256.8 338.1h0M257.8 338.5h0M258.8 338.4h0M259.8 337.8h0M260.8 338.0h0M261.8 338.9h0M262.8 338.2h0M263.8 339.0h0M264.8 338.2h0M265.8 338.3h0M266.8 338.9h0M267.8 338.3h0M268.8 338.0h0M269.8 338.5h0M270.8 338.2h0M271.8 338.3h0M272.8 337.5h0M273.8 337.6h0M274.8 336.7h0M275.8 335.5h0M276.8 333.9h0M277.8 334.7h0M278.8 333.4h0M279.8 332.0h0M280.8 330.8h0" stroke="#00f0f0" stroke-width="2.1" stroke-linecap="square" fill="none"/>
<path d="M213.8 330.0h0M214.8 330.1h0M215.8 330.0h0M216.8 330.0h0M217.8 330.0h0M218.8 330.1h0M219.8 329.9h0M220.8 329.7h0M221.8 329.5h0M222.8 329.5h0M223.8 329.8h0M224.8 330.0h0M225.8 329.9h0M226.8 329.8h0M227.8 329.1h0M228.8 328.3h0M229.8 326.7h0M230.8 324.5h0M231.8 321.9h0M232.8 316.6h0M233.8 314.3h0M234.8 309.5h0M235.8 305.7h0M236.8 303.0h0M237.8 299.5h0M238.8 300.7h0M239.8 302.5h0M240.8 303.3h0M241.8 307.7h0M242.8 311.5h0M243.8 315.2h0M244.8 319.4h0M245.8 321.6h0M246.8 322.3h0M247.8 324.2h0M248.8 325.1h0M249.8 324.9h0M250.8 325.7h0M251.8 325.9h0M252.8 327.0h0M253.8 326.1h0M254.8 326.0h0M255.8 325.6h0M256.8 326.2h0M257.8 326.8h0M258.8 325.7h0M259.8 325.8h0M260.8 325.1h0M261.8 327.1h0M262.8 325.5h0M263.8 325.3h0M264.8 325.4h0M265.8 325.8h0M266.8 326.0h0M267.8 323.9h0M268.8 325.7h0M269.8 326.3h0M270.8 325.7h0M271.8 325.3h0M272.8 326.4h0M273.8 323.5h0M274.8 322.9h0M275.8 322.8h0M276.8 323.6h0M277.8 321.6h0M278.8 319.9h0M279.8 319.8h0M280.8 318.6h0" stroke="#ff00ff" stroke-width="2.1" stroke-linecap="square" fill="none"/>
<path d="M213.8 317.2h0M214.8 317.0h0M215.8 316.9h0M216.8 316.9h0M217.8 317.2h0M218.8 317.2h0M219.8 317.1h0M220.8 317.0h0M221.8 317.2h0M222.8 317.4h0M223.8 317.3h0M224.8 317.2h0M225.8 317.1h0M226.8 316.9h0M227.8 316.6h0M228.8 315.7h0M229.8 314.5h0M230.8 311.9h0M231.8 308.0h0M232.8 305.9h0M233.8 301.2h0M234.8 295.1h0M235.8 293.0h0M236.8 288.3h0M237.8 288.3h0M238.8 287.9h0M239.8 288.9h0M240.8 290.9h0M241.8 293.0h0M242.8 298.6h0M243.8 302.9h0M244.8 307.1h0M245.8 308.5h0M246.8 311.4h0M247.8 312.3h0M248.8 312.3h0M249.8 311.6h0M250.8 313.5h0M251.8 312.5h0M252.8 312.7h0M253.8 314.2h0M254.8 313.8h0M255.8 313.0h0M256.8 311.8h0M257.8 311.6h0M258.8 312.1h0M259.8 311.2h0M260.8 313.8h0M261.8 313.8h0M262.8 313.1h0M263.8 312.9h0M264.8 312.3h0M265.8 313.1h0M266.8 313.4h0M267.8 313.0h0M268.8 314.4h0M269.8 314.2h0M270.8 312.6h0M271.8 311.4h0M272.8 310.7h0M273.8 311.1h0M274.8 310.0h0M275.8 309.3h0M276.8 308.0h0M277.8 306.4h0M278.8 306.8h0M279.8 304.6h0M280.8 303.8h0" stroke="#ff8000" stroke-width="2.1" stroke-linecap="square" fill="none"/>
<path d="M213.8 304.5h0M214.8 304.3h0M215.8 304.4h0M216.8 304.4h0M217.8 304.5h0M218.8 304.5h0M219.8 304.5h0M220.8 304.6h0M221.8 304.6h0M222.8 304.4h0M223.8 304.1h0M224.8 303.9h0M225.8 304.0h0M226.8 303.9h0M227.8 303.4h0M228.8 302.8h0M229.8 301.9h0M230.8 299.9h0M231.8 295.5h0M232.8 292.3h0M233.8 288.0h0M234.8 284.1h0M235.8 281.0h0M236.8 277.9h0M237.8 276.0h0M238.8 274.3h0M239.8 275.8h0M240.8 278.8h0M241.8 282.4h0M242.8 286.1h0M243.8 289.8h0M244.8 293.6h0M245.8 296.0h0M246.8 296.8h0M247.8 298.3h0M248.8 299.1h0M249.8 299.9h0M250.8 298.5h0M251.8 301.1h0M252.8 298.4h0M253.8 299.7h0M254.8 298.6h0M255.8 299.3h0M256.8 299.6h0M257.8 298.8h0M258.8 300.2h0M259.8 300.4h0M260.8 300.6h0M261.8 299.3h0M262.8 300.1h0M263.8 299.3h0M264.8 298.7h0M265.8 300.6h0M266.8 299.7h0M267.8 300.5h0M268.8 301.8h0M269.8 300.6h0M270.8 300.2h0M271.8 299.1h0M272.8 297.6h0M273.8 297.3h0M274.8 297.0h0M275.8 296.2h0M276.8 295.7h0M277.8 294.9h0M278.8 294.6h0M279.8 293.1h0M280.8 290.9h0" stroke="#808000" stroke-width="2.1" stroke-linecap="square" fill="none"/>
<path d="M213.8 291.5h0M214.8 291.5h0M215.8 291.6h0M216.8 291.5h0M217.8 291.6h0M218.8 291.5h0M219.8 291.5h0M220.8 291.3h0M221.8 291.3h0M222.8 291.4h0M223.8 291.3h0M224.8 291.1h0M225.8 291.1h0M226.8 291.0h0M227.8 291.0h0M228.8 290.2h0M229.8 288.6h0M230.8 286.5h0M231.8 282.6h0M232.8 279.1h0M233.8 275.0h0M234.8 271.4h0M235.8 267.3h0M236.8 262.2h0M237.8 261.5h0M238.8 262.6h0M239.8 264.2h0M240.8 268.8h0M241.8 269.6h0M242.8 274.9h0M243.8 277.9h0M244.8 279.4h0M245.8 281.7h0M246.8 284.8h0M247.8 284.0h0M248.8 286.1h0M249.8 286.0h0M250.8 287.1h0M251.8 286.8h0M252.8 286.3h0M253.8 287.7h0M254.8 287.9h0M255.8 286.3h0M256.8 286.8h0M257.8 286.3h0M258.8 286.3h0M259.8 287.1h0M260.8 287.9h0M261.8 288.1h0M262.8 287.1h0M263.8 285.7h0M264.8 287.4h0M265.8 287.6h0M266.8 286.3h0M267.8 287.3h0M268.8 287.4h0M269.8 287.1h0M270.8 287.2h0M271.8 285.7h0M272.8 286.2h0M273.8 283.7h0M274.8 285.1h0M275.8 283.4h0M276.8 282.4h0M277.8 282.1h0M278.8 281.1h0M279.8 279.2h0M280.8 278.7h0" stroke="#000090" stroke-width="2.1" stroke-linecap="square" fill="none"/>
<path d="M213.8 278.5h0M214.8 278.5h0M215.8 278.6h0M216.8 278.7h0M217.8 278.8h0M218.8 278.8h0M219.8 278.6h0M220.8 278.6h0M221.8 278.7h0M222.8 278.8h0M223.8 278.7h0M224.8 278.4h0M225.8 278.5h0M226.8 278.6h0M227.8 278.4h0M228.8 277.6h0M229.8 275.9h0M230.8 273.3h0M231.8 270.1h0M232.8 267.0h0M233.8 262.9h0M234.8 258.1h0M235.8 253.8h0M236.8 250.9h0M237.8 248.1h0M238.8 249.2h0M239.8 249.9h0M240.8 251.6h0M241.8 255.2h0M242.8 259.5h0M243.8 263.8h0M244.8 267.7h0M245.8 269.3h0M246.8 271.6h0M247.8 273.5h0M248.8 273.0h0M249.8 273.7h0M250.8 273.4h0M251.8 274.3h0M252.8 273.9h0M253.8 274.6h0M254.8 274.1h0M255.8 273.7h0M256.8 274.6h0M257.8 273.5h0M258.8 273.8h0M259.8 272.6h0M260.8 273.4h0M261.8 272.7h0M262.8 273.2h0M263.8 273.8h0M264.8 272.7h0M265.8 274.8h0M266.8 273.8h0M267.8 274.7h0M268.8 274.7h0M269.8 275.5h0M270.8 274.4h0M271.8 272.9h0M272.8 272.0h0M273.8 272.4h0M274.8 270.7h0M275.8 269.2h0M276.8 268.7h0M277.8 268.6h0M278.8 267.4h0M279.8 266.5h0M280.8 266.2h0" stroke="#b000b0" stroke-width="2.1" stroke-linecap="square" fill="none"/>
<path d="M213.8 266.0h0M214.8 266.2h0M215.8 266.0h0M216.8 265.9h0M217.8 265.7h0M218.8 266.1h0M219.8 266.2h0M220.8 266.3h0M221.8 266.1h0M222.8 266.1h0M223.8 265.8h0M224.8 265.9h0M225.8 265.7h0M226.8 265.7h0M227.8 265.3h0M228.8 264.8h0M229.8 264.7h0M230.8 260.6h0M231.8 258.9h0M232.8 254.7h0M233.8 250.7h0M234.8 245.9h0M235.8 240.9h0M236.8 238.2h0M237.8 235.0h0M238.8 236.0h0M239.8 237.0h0M240.8 241.0h0M241.8 244.6h0M242.8 247.2h0M243.8 251.3h0M244.8 254.8h0M245.8 257.2h0M246.8 260.1h0M247.8 260.6h0M248.8 262.2h0M249.8 261.5h0M250.8 259.8h0M251.8 261.5h0M252.8 262.9h0M253.8 262.1h0M254.8 262.4h0M255.8 261.6h0M256.8 261.6h0M257.8 260.6h0M258.8 261.0h0M259.8 259.7h0M260.8 262.3h0M261.8 261.4h0M262.8 261.4h0M263.8 262.1h0M264.8 261.8h0M265.8 261.8h0M266.8 260.4h0M267.8 260.8h0M268.8 262.5h0M269.8 261.8h0M270.8 261.3h0M271.8 259.6h0M272.8 259.6h0M273.8 259.7h0M274.8 258.4h0M275.8 258.8h0M276.8 256.1h0M277.8 255.2h0M278.8 253.6h0M279.8 253.6h0M280.8 253.3h0" stroke="#b00000" stroke-width="2.1" stroke-linecap="square" fill="none"/>
<path d="M213.8 252.9h0M214.8 253.0h0M215.8 253.0h0M216.8 253.2h0M217.8 253.1h0M218.8 253.1h0M219.8 252.8h0M220.8 252.6h0M221.8 252.7h0M222.8 252.8h0M223.8 252.8h0M224.8 252.6h0M225.8 252.5h0M226.8 252.5h0M227.8 252.2h0M228.8 251.7h0M229.8 250.2h0M230.8 248.7h0M231.8 244.8h0M232.8 241.4h0M233.8 238.4h0M234.8 232.8h0M235.8 227.9h0M236.8 224.2h0M237.8 223.1h0M238.8 223.3h0M239.8 226.4h0M240.8 227.6h0M241.8 230.8h0M242.8 235.6h0M243.8 239.6h0M244.8 241.9h0M245.8 243.7h0M246.8 246.1h0M247.8 247.1h0M248.8 247.3h0M249.8 248.4h0M250.8 248.1h0M251.8 248.4h0M252.8 248.1h0M253.8 248.5h0M254.8 247.8h0M255.8 248.6h0M256.8 246.7h0M257.8 248.2h0M258.8 248.2h0M259.8 247.8h0M260.8 249.9h0M261.8 249.8h0M262.8 250.0h0M263.8 249.7h0M264.8 249.1h0M265.8 250.1h0M266.8 250.7h0M267.8 249.5h0M268.8 249.1h0M269.8 248.0h0M270.8 248.0h0M271.8 247.8h0M272.8 246.2h0M273.8 246.9h0M274.8 245.6h0M275.8 246.8h0M276.8 244.8h0M277.8 244.4h0M278.8 241.2h0M279.8 241.6h0M280.8 238.8h0" stroke="#008000" stroke-width="2.1" stroke-linecap="square" fill="none"/>
<line x1="86.4" y1="30.5" x2="86.4" y2="185.5" stroke="#ff1010" stroke-width="1.4" />
<line x1="62.0" y1="195.0" x2="62.0" y2="57.5" stroke="#ff1010" stroke-width="1.4" />
<path d="M59.5 59.5L62.0 54.5L64.5 59.5z" fill="#ff1010"/>
<text x="89.8" y="34.5" font-size="8.5" text-anchor="start" font-weight="bold" fill="#000" >A</text>
<text x="51.0" y="53.5" font-size="8.0" text-anchor="start" font-weight="bold" fill="#000" >136.04</text>
<text x="53.5" y="65.5" font-size="8.5" text-anchor="start" font-weight="bold" fill="#000" >B</text>
<text x="77.7" y="199.5" font-size="8.0" text-anchor="start" font-weight="bold" fill="#000" >138.05</text>
<text x="124.8" y="196.4" font-size="9.3" text-anchor="end" font-weight="bold" fill="#000" >#1</text>
<text x="124.8" y="181.6" font-size="9.3" text-anchor="end" font-weight="bold" fill="#000" >#2</text>
<text x="124.8" y="166.8" font-size="9.3" text-anchor="end" font-weight="bold" fill="#000" >#3</text>
<text x="124.8" y="152.0" font-size="9.3" text-anchor="end" font-weight="bold" fill="#000" >#4</text>
<text x="124.8" y="137.2" font-size="9.3" text-anchor="end" font-weight="bold" fill="#000" >#5</text>
<text x="124.8" y="122.4" font-size="9.3" text-anchor="end" font-weight="bold" fill="#000" >#6</text>
<text x="124.8" y="107.6" font-size="9.3" text-anchor="end" font-weight="bold" fill="#000" >#7</text>
<text x="124.8" y="92.8" font-size="9.3" text-anchor="end" font-weight="bold" fill="#000" >#8</text>
<text x="124.8" y="78.0" font-size="9.3" text-anchor="end" font-weight="bold" fill="#000" >#9</text>
<text x="124.8" y="63.2" font-size="9.3" text-anchor="end" font-weight="bold" fill="#000" >#10</text>
<line x1="169.2" y1="23.5" x2="169.2" y2="117.0" stroke="#ff1010" stroke-width="1.4" />
<line x1="166.8" y1="113.0" x2="166.8" y2="176.0" stroke="#2020ff" stroke-width="1.3" />
<line x1="169.0" y1="176.0" x2="169.0" y2="192.0" stroke="#ff1010" stroke-width="1.4" />
<line x1="144.8" y1="106.0" x2="144.8" y2="48.5" stroke="#ff1010" stroke-width="1.4" />
<path d="M142.3 50.5L144.8 45.5L147.3 50.5z" fill="#ff1010"/>
<text x="173.6" y="32.0" font-size="8.5" text-anchor="start" font-weight="bold" fill="#000" >A</text>
<text x="133.9" y="43.5" font-size="8.0" text-anchor="start" font-weight="bold" fill="#000" >136.12</text>
<text x="132.0" y="53.0" font-size="8.5" text-anchor="start" font-weight="bold" fill="#000" >B</text>
<text x="157.5" y="204.2" font-size="8.0" text-anchor="start" font-weight="bold" fill="#000" >138.12</text>
<text x="130.0" y="100.3" font-size="6.8" text-anchor="start" font-weight="bold" fill="#000" >#10</text>
<text x="206.2" y="49.7" font-size="9.3" font-weight="bold" text-anchor="end">10<tspan font-size="5.4" dy="-3.6">12</tspan><tspan dy="3.6">L</tspan></text>
<text x="205.5" y="99.5" font-size="9.3" font-weight="bold" text-anchor="end">10<tspan font-size="5.4" dy="-3.6">8</tspan><tspan dy="3.6">L</tspan></text>
<text x="206.0" y="134.0" font-size="9.3" font-weight="bold" text-anchor="end">10<tspan font-size="5.4" dy="-3.6">5</tspan><tspan dy="3.6">L</tspan></text>
<text x="206.0" y="167.3" font-size="9.3" font-weight="bold" text-anchor="end">10<tspan font-size="5.4" dy="-3.6">2</tspan><tspan dy="3.6">L</tspan></text>
<text x="206.0" y="188.0" font-size="9.3" text-anchor="end" font-weight="bold" fill="#000" >1 L</text>
<text x="206.0" y="199.5" font-size="9.3" text-anchor="end" font-weight="bold" fill="#000" >0 L</text>
<line x1="246.5" y1="30.5" x2="246.5" y2="95.0" stroke="#ff1010" stroke-width="1.4" />
<line x1="244.8" y1="95.0" x2="244.8" y2="150.0" stroke="#2020ff" stroke-width="1.3" />
<line x1="246.0" y1="150.0" x2="246.0" y2="172.0" stroke="#ff1010" stroke-width="1.4" />
<line x1="222.4" y1="197.0" x2="222.4" y2="56.0" stroke="#ff1010" stroke-width="1.4" />
<path d="M219.9 58.0L222.4 53.0L224.9 58.0z" fill="#ff1010"/>
<line x1="221.6" y1="110.0" x2="221.6" y2="181.0" stroke="#2020ff" stroke-width="1.3" />
<text x="250.0" y="33.5" font-size="8.5" text-anchor="start" font-weight="bold" fill="#000" >A</text>
<text x="212.0" y="49.8" font-size="8.0" text-anchor="start" font-weight="bold" fill="#000" >136.06</text>
<text x="212.0" y="59.3" font-size="8.5" text-anchor="start" font-weight="bold" fill="#000" >B</text>
<text x="235.0" y="204.5" font-size="8.0" text-anchor="start" font-weight="bold" fill="#000" >138.09</text>
<text x="285.0" y="59.2" font-size="9.3" font-weight="bold" text-anchor="end">10<tspan font-size="5.4" dy="-3.6">10</tspan><tspan dy="3.6">L</tspan></text>
<text x="285.0" y="97.2" font-size="9.3" font-weight="bold" text-anchor="end">10<tspan font-size="5.4" dy="-3.6">7</tspan><tspan dy="3.6">L</tspan></text>
<text x="285.0" y="137.4" font-size="9.3" font-weight="bold" text-anchor="end">10<tspan font-size="5.4" dy="-3.6">4</tspan><tspan dy="3.6">L</tspan></text>
<text x="287.0" y="173.0" font-size="9.3" text-anchor="end" font-weight="bold" fill="#000" >10 L</text>
<text x="287.0" y="197.3" font-size="9.3" text-anchor="end" font-weight="bold" fill="#000" >0 L</text>
<line x1="66.8" y1="240.0" x2="66.8" y2="398.0" stroke="#ff1010" stroke-width="1.4" />
<text x="104.0" y="385.0" font-size="9" text-anchor="end" font-weight="bold" fill="#000" >#1</text>
<text x="104.0" y="370.1" font-size="9" text-anchor="end" font-weight="bold" fill="#000" >#2</text>
<text x="104.0" y="355.3" font-size="9" text-anchor="end" font-weight="bold" fill="#000" >#3</text>
<text x="104.0" y="340.4" font-size="9" text-anchor="end" font-weight="bold" fill="#000" >#4</text>
<text x="104.0" y="325.5" font-size="9" text-anchor="end" font-weight="bold" fill="#000" >#5</text>
<text x="104.0" y="310.7" font-size="9" text-anchor="end" font-weight="bold" fill="#000" >#6</text>
<text x="104.0" y="295.8" font-size="9" text-anchor="end" font-weight="bold" fill="#000" >#7</text>
<text x="104.0" y="280.9" font-size="9" text-anchor="end" font-weight="bold" fill="#000" >#8</text>
<text x="104.0" y="266.1" font-size="9" text-anchor="end" font-weight="bold" fill="#000" >#9</text>
<text x="104.0" y="251.2" font-size="9" text-anchor="end" font-weight="bold" fill="#000" >#10</text>
<line x1="149.9" y1="238.0" x2="149.9" y2="326.0" stroke="#ff1010" stroke-width="1.4" />
<line x1="149.3" y1="326.0" x2="149.3" y2="385.0" stroke="#2020ff" stroke-width="1.3" />
<line x1="150.3" y1="385.0" x2="150.3" y2="398.0" stroke="#ff1010" stroke-width="1.4" />
<text x="188.5" y="244.5" font-size="9.3" font-weight="bold" text-anchor="end">10<tspan font-size="5.4" dy="-3.6">12</tspan><tspan dy="3.6">L</tspan></text>
<text x="186.0" y="324.0" font-size="9.3" font-weight="bold" text-anchor="end">10<tspan font-size="5.4" dy="-3.6">5</tspan><tspan dy="3.6">L</tspan></text>
<text x="186.0" y="356.5" font-size="9.3" font-weight="bold" text-anchor="end">10<tspan font-size="5.4" dy="-3.6">2</tspan><tspan dy="3.6">L</tspan></text>
<text x="186.0" y="378.2" font-size="9.3" text-anchor="end" font-weight="bold" fill="#000" >1 L</text>
<text x="186.0" y="389.0" font-size="9.3" text-anchor="end" font-weight="bold" fill="#000" >0 L</text>
<line x1="231.5" y1="242.0" x2="231.5" y2="322.0" stroke="#ff1010" stroke-width="1.4" />
<line x1="230.8" y1="322.0" x2="230.8" y2="367.0" stroke="#2020ff" stroke-width="1.3" />
<line x1="232.6" y1="367.0" x2="232.6" y2="398.0" stroke="#ff1010" stroke-width="1.4" />
<text x="271.0" y="245.2" font-size="9.3" font-weight="bold" text-anchor="end">10<tspan font-size="5.4" dy="-3.6">10</tspan><tspan dy="3.6">L</tspan></text>
<text x="268.0" y="286.5" font-size="9.3" font-weight="bold" text-anchor="end">10<tspan font-size="5.4" dy="-3.6">7</tspan><tspan dy="3.6">L</tspan></text>
<text x="267.0" y="324.0" font-size="9.3" font-weight="bold" text-anchor="end">10<tspan font-size="5.4" dy="-3.6">4</tspan><tspan dy="3.6">L</tspan></text>
<text x="268.0" y="361.7" font-size="9.3" text-anchor="end" font-weight="bold" fill="#000" >10 L</text>
<text x="267.0" y="387.1" font-size="9.3" text-anchor="end" font-weight="bold" fill="#000" >0 L</text>
<rect x="329.5" y="24.5" width="208.5" height="170.5" fill="none" stroke="#555" stroke-width="1"/>
<line x1="340.8" y1="195.0" x2="340.8" y2="192.0" stroke="#444" stroke-width="0.8" />
<text x="340.8" y="205.0" font-size="8" text-anchor="middle" font-weight="normal" fill="#222" >132</text>
<line x1="364.1" y1="195.0" x2="364.1" y2="193.2" stroke="#444" stroke-width="0.8" />
<line x1="387.3" y1="195.0" x2="387.3" y2="192.0" stroke="#444" stroke-width="0.8" />
<text x="387.3" y="205.0" font-size="8" text-anchor="middle" font-weight="normal" fill="#222" >136</text>
<line x1="410.6" y1="195.0" x2="410.6" y2="193.2" stroke="#444" stroke-width="0.8" />
<line x1="433.8" y1="195.0" x2="433.8" y2="192.0" stroke="#444" stroke-width="0.8" />
<text x="433.8" y="205.0" font-size="8" text-anchor="middle" font-weight="normal" fill="#222" >140</text>
<line x1="457.1" y1="195.0" x2="457.1" y2="193.2" stroke="#444" stroke-width="0.8" />
<line x1="480.4" y1="195.0" x2="480.4" y2="192.0" stroke="#444" stroke-width="0.8" />
<text x="480.4" y="205.0" font-size="8" text-anchor="middle" font-weight="normal" fill="#222" >144</text>
<line x1="503.6" y1="195.0" x2="503.6" y2="193.2" stroke="#444" stroke-width="0.8" />
<line x1="526.9" y1="195.0" x2="526.9" y2="192.0" stroke="#444" stroke-width="0.8" />
<text x="526.9" y="205.0" font-size="8" text-anchor="middle" font-weight="normal" fill="#222" >148</text>
<text x="386.5" y="219.2" font-size="11.5" text-anchor="start" font-weight="bold" fill="#000" >Binding Energy (eV)</text>
<text transform="translate(321,148) rotate(-90)" font-size="11.4" font-weight="bold">Intensity (a. u.)</text>
<text x="337" y="40.5" font-size="12.5" font-weight="bold" font-family="Liberation Serif">(g)</text>
<text x="534.6" y="40.2" font-size="9" text-anchor="end" font-weight="bold" fill="#000" >#10 X-ray</text>
<text x="397.6" y="39.5" font-size="9" text-anchor="start" font-weight="bold" fill="#000" >Pb4f<tspan font-size="5.5" dy="2.5">7/2</tspan><tspan dy="-2.5">-A</tspan></text>
<text x="457.4" y="73.0" font-size="9" text-anchor="start" font-weight="bold" fill="#000" >Pb4f<tspan font-size="5.5" dy="2.5">5/2</tspan><tspan dy="-2.5">-A</tspan></text>
<text x="359.5" y="140.5" font-size="9" text-anchor="start" font-weight="bold" fill="#000" >Pb4f<tspan font-size="5.5" dy="2.5">7/2</tspan><tspan dy="-2.5">-B</tspan></text>
<text x="426.5" y="152.5" font-size="7.3" text-anchor="start" font-weight="bold" fill="#000" >Pb4f<tspan font-size="5.5" dy="2.5">5/2</tspan><tspan dy="-2.5">-B</tspan></text>
<line x1="352.0" y1="177.2" x2="518.5" y2="177.2" stroke="#00e8e8" stroke-width="1.6" />
<path d="M383.2 177.2L383.9 177.1L384.6 177.1L385.3 177.1L386.0 177.0L386.7 177.0L387.4 176.9L388.1 176.7L388.8 176.6L389.5 176.4L390.2 176.1L390.9 175.7L391.6 175.3L392.3 174.7L393.0 174.0L393.7 173.1L394.4 172.0L395.1 170.7L395.8 169.1L396.5 167.2L397.2 165.0L397.9 162.4L398.6 159.3L399.3 155.9L400.0 151.9L400.7 147.5L401.4 142.6L402.1 137.2L402.8 131.4L403.5 125.1L404.2 118.5L404.9 111.5L405.6 104.4L406.3 97.1L407.0 89.9L407.7 82.7L408.4 75.9L409.1 69.4L409.8 63.4L410.5 58.2L411.2 53.6L411.9 50.0L412.6 47.4L413.3 45.7L414.0 45.2L414.7 45.7L415.4 47.4L416.1 50.0L416.8 53.6L417.5 58.2L418.2 63.4L418.9 69.4L419.6 75.9L420.3 82.7L421.0 89.9L421.7 97.1L422.4 104.4L423.1 111.5L423.8 118.5L424.5 125.1L425.2 131.4L425.9 137.2L426.6 142.6L427.3 147.5L428.0 151.9L428.7 155.9L429.4 159.3L430.1 162.4L430.8 165.0L431.5 167.2L432.2 169.1L432.9 170.7L433.6 172.0L434.3 173.1L435.0 174.0L435.7 174.7L436.4 175.3L437.1 175.7L437.8 176.1L438.5 176.4L439.2 176.6L439.9 176.7L440.6 176.9L441.3 177.0L442.0 177.0L442.7 177.1L443.4 177.1L444.1 177.1L444.8 177.2" stroke="#ff0000" stroke-width="1.3" fill="none"/>
<path d="M364.0 177.2L364.7 177.2L365.4 177.2L366.1 177.2L366.8 177.2L367.5 177.1L368.2 177.1L368.9 177.1L369.6 177.0L370.3 176.9L371.0 176.8L371.7 176.6L372.4 176.4L373.1 176.2L373.8 175.9L374.5 175.5L375.2 175.0L375.9 174.4L376.6 173.6L377.3 172.8L378.0 171.8L378.7 170.6L379.4 169.3L380.1 167.9L380.8 166.4L381.5 164.8L382.2 163.1L382.9 161.4L383.6 159.8L384.3 158.1L385.0 156.6L385.7 155.3L386.4 154.2L387.1 153.3L387.8 152.7L388.5 152.4L389.2 152.5L389.9 152.8L390.6 153.4L391.3 154.3L392.0 155.5L392.7 156.9L393.4 158.4L394.1 160.0L394.8 161.7L395.5 163.4L396.2 165.0L396.9 166.6L397.6 168.1L398.3 169.5L399.0 170.8L399.7 171.9L400.4 172.9L401.1 173.7L401.8 174.4L402.5 175.0L403.2 175.5L403.9 175.9L404.6 176.2L405.3 176.5L406.0 176.7L406.7 176.8L407.4 176.9L408.1 177.0L408.8 177.1L409.5 177.1L410.2 177.1L410.9 177.2L411.6 177.2L412.3 177.2L413.0 177.2" stroke="#00ee00" stroke-width="1.3" fill="none"/>
<path d="M439.0 177.2L439.7 177.2L440.4 177.1L441.1 177.1L441.8 177.1L442.5 177.0L443.2 177.0L443.9 176.9L444.6 176.8L445.3 176.6L446.0 176.5L446.7 176.2L447.4 175.9L448.1 175.6L448.8 175.1L449.5 174.5L450.2 173.8L450.9 173.0L451.6 172.0L452.3 170.8L453.0 169.3L453.7 167.6L454.4 165.7L455.1 163.5L455.8 160.9L456.5 158.0L457.2 154.8L457.9 151.3L458.6 147.4L459.3 143.2L460.0 138.7L460.7 134.0L461.4 129.0L462.1 123.9L462.8 118.7L463.5 113.4L464.2 108.2L464.9 103.2L465.6 98.4L466.3 93.9L467.0 89.8L467.7 86.3L468.4 83.3L469.1 81.0L469.8 79.3L470.5 78.4L471.2 78.2L471.9 78.8L472.6 80.2L473.3 82.2L474.0 84.9L474.7 88.2L475.4 92.1L476.1 96.4L476.8 101.1L477.5 106.0L478.2 111.2L478.9 116.4L479.6 121.6L480.3 126.8L481.0 131.9L481.7 136.7L482.4 141.3L483.1 145.7L483.8 149.7L484.5 153.4L485.2 156.7L485.9 159.7L486.6 162.4L487.3 164.8L488.0 166.8L488.7 168.6L489.4 170.2L490.1 171.5L490.8 172.6L491.5 173.5L492.2 174.2L492.9 174.9L493.6 175.4L494.3 175.8L495.0 176.1L495.7 176.4L496.4 176.6L497.1 176.7L497.8 176.8L498.5 176.9L499.2 177.0L499.9 177.1L500.6 177.1L501.3 177.1L502.0 177.1L502.7 177.2" stroke="#0000ff" stroke-width="1.3" fill="none"/>
<path d="M415.9 177.2L416.6 177.2L417.3 177.2L418.0 177.2L418.7 177.2L419.4 177.2L420.1 177.2L420.8 177.2L421.5 177.1L422.2 177.1L422.9 177.1L423.6 177.0L424.3 177.0L425.0 176.9L425.7 176.9L426.4 176.8L427.1 176.6L427.8 176.5L428.5 176.3L429.2 176.1L429.9 175.9L430.6 175.6L431.3 175.2L432.0 174.9L432.7 174.4L433.4 174.0L434.1 173.4L434.8 172.8L435.5 172.2L436.2 171.5L436.9 170.8L437.6 170.1L438.3 169.3L439.0 168.6L439.7 167.8L440.4 167.1L441.1 166.4L441.8 165.7L442.5 165.1L443.2 164.6L443.9 164.2L444.6 163.8L445.3 163.6L446.0 163.5L446.7 163.5L447.4 163.6L448.1 163.9L448.8 164.2L449.5 164.7L450.2 165.2L450.9 165.8L451.6 166.5L452.3 167.2L453.0 167.9L453.7 168.7L454.4 169.4L455.1 170.2L455.8 170.9L456.5 171.6L457.2 172.3L457.9 172.9L458.6 173.5L459.3 174.0L460.0 174.5L460.7 174.9L461.4 175.3L462.1 175.6L462.8 175.9L463.5 176.1L464.2 176.3L464.9 176.5L465.6 176.7L466.3 176.8L467.0 176.9L467.7 176.9L468.4 177.0L469.1 177.0L469.8 177.1L470.5 177.1L471.2 177.1L471.9 177.2L472.6 177.2L473.3 177.2L474.0 177.2L474.7 177.2L475.4 177.2L476.1 177.2" stroke="#00e8e8" stroke-width="1.3" fill="none"/>
<path d="M351.5 177.2L352.2 177.2L352.9 177.2L353.6 177.2L354.3 177.2L355.0 177.2L355.7 177.2L356.4 177.2L357.1 177.2L357.8 177.2L358.5 177.2L359.2 177.2L359.9 177.2L360.6 177.2L361.3 177.2L362.0 177.2L362.7 177.2L363.4 177.2L364.1 177.2L364.8 177.2L365.5 177.2L366.2 177.2L366.9 177.2L367.6 177.1L368.3 177.1L369.0 177.0L369.7 177.0L370.4 176.9L371.1 176.8L371.8 176.6L372.5 176.4L373.2 176.2L373.9 175.8L374.6 175.4L375.3 174.9L376.0 174.3L376.7 173.5L377.4 172.6L378.1 171.6L378.8 170.4L379.5 169.1L380.2 167.7L380.9 166.2L381.6 164.5L382.3 162.9L383.0 161.1L383.7 159.5L384.4 157.8L385.1 156.3L385.8 155.0L386.5 153.8L387.2 152.9L387.9 152.2L388.6 151.8L389.3 151.7L390.0 151.8L390.7 152.2L391.4 152.7L392.1 153.4L392.8 154.1L393.5 154.8L394.2 155.4L394.9 155.8L395.6 156.0L396.3 155.9L397.0 155.3L397.7 154.3L398.4 152.8L399.1 150.7L399.8 148.0L400.5 144.6L401.2 140.7L401.9 136.1L402.6 131.0L403.3 125.3L404.0 119.2L404.7 112.6L405.4 105.8L406.1 98.7L406.8 91.6L407.5 84.5L408.2 77.6L408.9 71.1L409.6 65.0L410.3 59.5L411.0 54.8L411.7 50.9L412.4 48.0L413.1 46.1L413.8 45.2L414.5 45.5L415.2 46.8L415.9 49.2L416.6 52.5L417.3 56.8L418.0 61.8L418.7 67.6L419.4 74.0L420.1 80.7L420.8 87.8L421.5 95.0L422.2 102.2L422.9 109.4L423.6 116.4L424.3 123.0L425.0 129.4L425.7 135.2L426.4 140.7L427.1 145.6L427.8 150.0L428.5 153.9L429.2 157.3L429.9 160.2L430.6 162.7L431.3 164.7L432.0 166.3L432.7 167.5L433.4 168.4L434.1 169.0L434.8 169.4L435.5 169.5L436.2 169.5L436.9 169.2L437.6 168.9L438.3 168.4L439.0 167.9L439.7 167.3L440.4 166.6L441.1 166.0L441.8 165.4L442.5 164.8L443.2 164.3L443.9 163.8L444.6 163.4L445.3 163.0L446.0 162.7L446.7 162.5L447.4 162.4L448.1 162.2L448.8 162.1L449.5 162.0L450.2 161.8L450.9 161.6L451.6 161.2L452.3 160.7L453.0 160.0L453.7 159.1L454.4 157.9L455.1 156.5L455.8 154.6L456.5 152.5L457.2 149.9L457.9 147.0L458.6 143.7L459.3 140.1L460.0 136.0L460.7 131.7L461.4 127.1L462.1 122.3L462.8 117.4L463.5 112.3L464.2 107.4L464.9 102.5L465.6 97.8L466.3 93.5L467.0 89.5L467.7 86.0L468.4 83.1L469.1 80.8L469.8 79.2L470.5 78.3L471.2 78.2L471.9 78.8L472.6 80.1L473.3 82.2L474.0 84.9L474.7 88.2L475.4 92.1L476.1 96.4L476.8 101.1L477.5 106.0L478.2 111.2L478.9 116.4L479.6 121.6L480.3 126.8L481.0 131.9L481.7 136.7L482.4 141.3L483.1 145.7L483.8 149.7L484.5 153.4L485.2 156.7L485.9 159.7L486.6 162.4L487.3 164.8L488.0 166.8L488.7 168.6L489.4 170.2L490.1 171.5L490.8 172.6L491.5 173.5L492.2 174.2L492.9 174.9L493.6 175.4L494.3 175.8L495.0 176.1L495.7 176.4L496.4 176.6L497.1 176.7L497.8 176.8L498.5 176.9L499.2 177.0L499.9 177.1L500.6 177.1L501.3 177.1L502.0 177.1L502.7 177.2L503.4 177.2L504.1 177.2L504.8 177.2L505.5 177.2L506.2 177.2L506.9 177.2L507.6 177.2L508.3 177.2L509.0 177.2L509.7 177.2L510.4 177.2L511.1 177.2L511.8 177.2L512.5 177.2L513.2 177.2L513.9 177.2L514.6 177.2L515.3 177.2L516.0 177.2L516.7 177.2L517.4 177.2L518.1 177.2" stroke="#ff00ff" stroke-width="1.8" fill="none"/>
<path d="M349.0 174.2h3.4v3.4h-3.4zM352.3 173.0h3.4v3.4h-3.4zM353.7 173.0h3.4v3.4h-3.4zM356.6 175.7h3.4v3.4h-3.4zM358.7 174.9h3.4v3.4h-3.4zM360.1 175.2h3.4v3.4h-3.4zM361.3 175.7h3.4v3.4h-3.4zM362.9 175.1h3.4v3.4h-3.4zM366.3 175.5h3.4v3.4h-3.4zM367.5 177.7h3.4v3.4h-3.4zM369.8 174.3h3.4v3.4h-3.4zM371.9 173.7h3.4v3.4h-3.4zM373.5 172.9h3.4v3.4h-3.4zM377.2 168.6h3.4v3.4h-3.4zM377.9 167.9h3.4v3.4h-3.4zM381.2 159.4h3.4v3.4h-3.4zM381.4 159.2h3.4v3.4h-3.4zM382.8 152.8h3.4v3.4h-3.4zM386.3 150.2h3.4v3.4h-3.4zM387.1 144.6h3.4v3.4h-3.4zM390.3 148.2h3.4v3.4h-3.4zM391.5 150.5h3.4v3.4h-3.4zM394.0 151.8h3.4v3.4h-3.4zM395.5 152.0h3.4v3.4h-3.4zM398.9 142.7h3.4v3.4h-3.4zM399.5 139.9h3.4v3.4h-3.4zM402.1 117.8h3.4v3.4h-3.4zM403.5 107.4h3.4v3.4h-3.4zM405.7 83.1h3.4v3.4h-3.4zM407.9 62.9h3.4v3.4h-3.4zM409.8 48.1h3.4v3.4h-3.4zM413.0 44.3h3.4v3.4h-3.4zM413.2 45.4h3.4v3.4h-3.4zM416.0 58.0h3.4v3.4h-3.4zM418.5 82.8h3.4v3.4h-3.4zM420.2 99.1h3.4v3.4h-3.4zM423.3 126.6h3.4v3.4h-3.4zM423.4 129.7h3.4v3.4h-3.4zM424.6 138.0h3.4v3.4h-3.4zM428.7 161.5h3.4v3.4h-3.4zM430.2 162.3h3.4v3.4h-3.4zM433.4 168.4h3.4v3.4h-3.4zM434.3 168.3h3.4v3.4h-3.4zM434.6 166.2h3.4v3.4h-3.4zM436.9 166.5h3.4v3.4h-3.4zM439.2 162.2h3.4v3.4h-3.4zM441.6 161.1h3.4v3.4h-3.4zM444.2 159.4h3.4v3.4h-3.4zM444.9 155.4h3.4v3.4h-3.4zM447.9 158.6h3.4v3.4h-3.4zM450.7 156.9h3.4v3.4h-3.4zM451.4 158.7h3.4v3.4h-3.4zM452.7 155.1h3.4v3.4h-3.4zM455.1 150.1h3.4v3.4h-3.4zM459.3 129.1h3.4v3.4h-3.4zM460.6 119.5h3.4v3.4h-3.4zM462.0 108.8h3.4v3.4h-3.4zM463.6 95.4h3.4v3.4h-3.4zM465.0 88.3h3.4v3.4h-3.4zM468.4 77.8h3.4v3.4h-3.4zM470.6 79.5h3.4v3.4h-3.4zM471.6 81.6h3.4v3.4h-3.4zM475.2 99.8h3.4v3.4h-3.4zM476.6 109.7h3.4v3.4h-3.4zM476.7 110.9h3.4v3.4h-3.4zM479.2 129.8h3.4v3.4h-3.4zM481.5 144.8h3.4v3.4h-3.4zM482.3 151.4h3.4v3.4h-3.4zM486.8 165.9h3.4v3.4h-3.4zM487.2 167.3h3.4v3.4h-3.4zM490.3 172.8h3.4v3.4h-3.4zM492.1 171.6h3.4v3.4h-3.4zM493.0 175.8h3.4v3.4h-3.4zM496.0 173.4h3.4v3.4h-3.4zM497.2 173.7h3.4v3.4h-3.4zM499.1 176.7h3.4v3.4h-3.4zM501.6 176.7h3.4v3.4h-3.4zM503.9 173.8h3.4v3.4h-3.4zM505.3 178.0h3.4v3.4h-3.4zM507.3 174.3h3.4v3.4h-3.4zM510.7 175.6h3.4v3.4h-3.4zM511.8 177.1h3.4v3.4h-3.4zM512.5 176.0h3.4v3.4h-3.4zM515.0 173.9h3.4v3.4h-3.4z" fill="#000"/>
<polygon points="327.5,242.5 456.9,242.5 537.8,256.9 424.6,256.9" fill="#f6f055"/>
<polygon points="327.5,242.5 424.6,256.9 327.5,256.9" fill="#f2c2f2"/>
<polygon points="327.5,386.7 424.6,372.3 537.8,372.3 456.9,386.7" fill="#a4a4f2"/>
<polygon points="456.9,386.7 537.8,372.3 537.8,386.7" fill="#f8cc90"/>
<line x1="327.5" y1="256.9" x2="537.8" y2="256.9" stroke="#f4b8d0" stroke-width="0.8" />
<line x1="327.5" y1="372.3" x2="537.8" y2="372.3" stroke="#f4b8c0" stroke-width="0.8" />
<rect x="327.5" y="228.2" width="210.29999999999995" height="172.5" fill="none" stroke="#444" stroke-width="1.0"/>
<line x1="327.5" y1="386.7" x2="330.5" y2="386.7" stroke="#333" stroke-width="0.9" />
<line x1="327.5" y1="372.3" x2="329.3" y2="372.3" stroke="#333" stroke-width="0.9" />
<line x1="327.5" y1="357.9" x2="330.5" y2="357.9" stroke="#333" stroke-width="0.9" />
<line x1="327.5" y1="343.4" x2="329.3" y2="343.4" stroke="#333" stroke-width="0.9" />
<line x1="327.5" y1="329.0" x2="330.5" y2="329.0" stroke="#333" stroke-width="0.9" />
<line x1="327.5" y1="314.6" x2="329.3" y2="314.6" stroke="#333" stroke-width="0.9" />
<line x1="327.5" y1="300.2" x2="330.5" y2="300.2" stroke="#333" stroke-width="0.9" />
<line x1="327.5" y1="285.8" x2="329.3" y2="285.8" stroke="#333" stroke-width="0.9" />
<line x1="327.5" y1="271.3" x2="330.5" y2="271.3" stroke="#333" stroke-width="0.9" />
<line x1="327.5" y1="256.9" x2="329.3" y2="256.9" stroke="#333" stroke-width="0.9" />
<line x1="327.5" y1="242.5" x2="330.5" y2="242.5" stroke="#333" stroke-width="0.9" />
<text x="323.6" y="389.7" font-size="8" text-anchor="end" font-weight="normal" fill="#111" >0.0</text>
<text x="323.6" y="360.9" font-size="8" text-anchor="end" font-weight="normal" fill="#111" >0.2</text>
<text x="323.6" y="332.0" font-size="8" text-anchor="end" font-weight="normal" fill="#111" >0.4</text>
<text x="323.6" y="303.2" font-size="8" text-anchor="end" font-weight="normal" fill="#111" >0.6</text>
<text x="323.6" y="274.3" font-size="8" text-anchor="end" font-weight="normal" fill="#111" >0.8</text>
<text x="323.6" y="245.5" font-size="8" text-anchor="end" font-weight="normal" fill="#111" >1.0</text>
<text x="324.6" y="260.4" font-size="9.3" text-anchor="end" font-weight="bold" fill="#ff1a1a" >0.90</text>
<text x="324.6" y="375.8" font-size="9.3" text-anchor="end" font-weight="bold" fill="#ff1a1a" >0.10</text>
<line x1="343.7" y1="400.7" x2="343.7" y2="397.7" stroke="#333" stroke-width="0.9" />
<text x="343.7" y="412.0" font-size="8.5" text-anchor="middle" font-weight="bold" fill="#000" >2</text>
<line x1="359.9" y1="400.7" x2="359.9" y2="398.9" stroke="#333" stroke-width="0.9" />
<line x1="376.0" y1="400.7" x2="376.0" y2="397.7" stroke="#333" stroke-width="0.9" />
<text x="376.0" y="412.0" font-size="8.5" text-anchor="middle" font-weight="bold" fill="#000" >4</text>
<line x1="392.2" y1="400.7" x2="392.2" y2="398.9" stroke="#333" stroke-width="0.9" />
<line x1="408.4" y1="400.7" x2="408.4" y2="397.7" stroke="#333" stroke-width="0.9" />
<text x="408.4" y="412.0" font-size="8.5" text-anchor="middle" font-weight="bold" fill="#000" >6</text>
<line x1="424.6" y1="400.7" x2="424.6" y2="398.9" stroke="#333" stroke-width="0.9" />
<line x1="440.8" y1="400.7" x2="440.8" y2="397.7" stroke="#333" stroke-width="0.9" />
<text x="440.8" y="412.0" font-size="8.5" text-anchor="middle" font-weight="bold" fill="#000" >8</text>
<line x1="456.9" y1="400.7" x2="456.9" y2="398.9" stroke="#333" stroke-width="0.9" />
<line x1="473.1" y1="400.7" x2="473.1" y2="397.7" stroke="#333" stroke-width="0.9" />
<text x="473.1" y="412.0" font-size="8.5" text-anchor="middle" font-weight="bold" fill="#000" >10</text>
<line x1="489.3" y1="400.7" x2="489.3" y2="398.9" stroke="#333" stroke-width="0.9" />
<line x1="505.5" y1="400.7" x2="505.5" y2="397.7" stroke="#333" stroke-width="0.9" />
<text x="505.5" y="412.0" font-size="8.5" text-anchor="middle" font-weight="bold" fill="#000" >12</text>
<line x1="521.7" y1="400.7" x2="521.7" y2="398.9" stroke="#333" stroke-width="0.9" />
<line x1="537.8" y1="400.7" x2="537.8" y2="397.7" stroke="#333" stroke-width="0.9" />
<text x="537.8" y="412.0" font-size="8.5" text-anchor="middle" font-weight="bold" fill="#000" >14</text>
<text x="396.0" y="424.1" font-size="11.6" text-anchor="start" font-weight="bold" fill="#000" >Scan number</text>
<text transform="translate(309.7,355.6) rotate(-90)" font-size="11.5" font-weight="bold">Atomic ratio</text>
<text x="515.5" y="242.5" font-size="12" text-anchor="start" font-weight="bold" fill="#000" >(h)</text>
<line x1="424.6" y1="256.9" x2="424.6" y2="372.3" stroke="#ff3030" stroke-width="1.2" stroke-dasharray="4.5,2.5"/>
<line x1="456.9" y1="256.9" x2="456.9" y2="372.3" stroke="#ff3030" stroke-width="1.2" stroke-dasharray="4.5,2.5"/>
<text x="410.8" y="316.5" font-size="9.5" text-anchor="start" font-weight="normal" fill="#1a1a1a" >#7</text>
<text x="442.6" y="316.5" font-size="9.5" text-anchor="start" font-weight="normal" fill="#1a1a1a" >#9</text>
<line x1="343.7" y1="239.6" x2="343.7" y2="254.0" stroke="#a8a8a8" stroke-width="0.6" />
<line x1="341.9" y1="239.6" x2="345.5" y2="239.6" stroke="#a8a8a8" stroke-width="0.6" />
<line x1="341.9" y1="254.0" x2="345.5" y2="254.0" stroke="#a8a8a8" stroke-width="0.6" />
<line x1="359.9" y1="236.0" x2="359.9" y2="250.4" stroke="#a8a8a8" stroke-width="0.6" />
<line x1="358.1" y1="236.0" x2="361.7" y2="236.0" stroke="#a8a8a8" stroke-width="0.6" />
<line x1="358.1" y1="250.4" x2="361.7" y2="250.4" stroke="#a8a8a8" stroke-width="0.6" />
<line x1="376.0" y1="243.2" x2="376.0" y2="257.6" stroke="#a8a8a8" stroke-width="0.6" />
<line x1="374.2" y1="243.2" x2="377.8" y2="243.2" stroke="#a8a8a8" stroke-width="0.6" />
<line x1="374.2" y1="257.6" x2="377.8" y2="257.6" stroke="#a8a8a8" stroke-width="0.6" />
<line x1="392.2" y1="245.4" x2="392.2" y2="259.8" stroke="#a8a8a8" stroke-width="0.6" />
<line x1="390.4" y1="245.4" x2="394.0" y2="245.4" stroke="#a8a8a8" stroke-width="0.6" />
<line x1="390.4" y1="259.8" x2="394.0" y2="259.8" stroke="#a8a8a8" stroke-width="0.6" />
<line x1="408.4" y1="247.5" x2="408.4" y2="262.0" stroke="#a8a8a8" stroke-width="0.6" />
<line x1="406.6" y1="247.5" x2="410.2" y2="247.5" stroke="#a8a8a8" stroke-width="0.6" />
<line x1="406.6" y1="262.0" x2="410.2" y2="262.0" stroke="#a8a8a8" stroke-width="0.6" />
<line x1="424.6" y1="251.2" x2="424.6" y2="265.6" stroke="#a8a8a8" stroke-width="0.6" />
<line x1="422.8" y1="251.2" x2="426.4" y2="251.2" stroke="#a8a8a8" stroke-width="0.6" />
<line x1="422.8" y1="265.6" x2="426.4" y2="265.6" stroke="#a8a8a8" stroke-width="0.6" />
<line x1="440.8" y1="248.3" x2="440.8" y2="262.7" stroke="#a8a8a8" stroke-width="0.6" />
<line x1="439.0" y1="248.3" x2="442.6" y2="248.3" stroke="#a8a8a8" stroke-width="0.6" />
<line x1="439.0" y1="262.7" x2="442.6" y2="262.7" stroke="#a8a8a8" stroke-width="0.6" />
<line x1="456.9" y1="247.5" x2="456.9" y2="262.0" stroke="#a8a8a8" stroke-width="0.6" />
<line x1="455.1" y1="247.5" x2="458.7" y2="247.5" stroke="#a8a8a8" stroke-width="0.6" />
<line x1="455.1" y1="262.0" x2="458.7" y2="262.0" stroke="#a8a8a8" stroke-width="0.6" />
<line x1="473.1" y1="251.9" x2="473.1" y2="266.3" stroke="#a8a8a8" stroke-width="0.6" />
<line x1="471.3" y1="251.9" x2="474.9" y2="251.9" stroke="#a8a8a8" stroke-width="0.6" />
<line x1="471.3" y1="266.3" x2="474.9" y2="266.3" stroke="#a8a8a8" stroke-width="0.6" />
<polyline points="343.7,246.8 359.9,243.2 376.0,250.4 392.2,252.6 408.4,254.8 424.6,258.4 440.8,255.5 456.9,254.8 473.1,259.1" fill="none" stroke="#888888" stroke-width="1"/>
<rect x="341.2" y="244.3" width="5.0" height="5.0" fill="#000000"/>
<rect x="357.4" y="240.7" width="5.0" height="5.0" fill="#000000"/>
<rect x="373.5" y="247.9" width="5.0" height="5.0" fill="#000000"/>
<rect x="389.7" y="250.1" width="5.0" height="5.0" fill="#000000"/>
<rect x="405.9" y="252.3" width="5.0" height="5.0" fill="#000000"/>
<rect x="422.1" y="255.9" width="5.0" height="5.0" fill="#000000"/>
<rect x="438.3" y="253.0" width="5.0" height="5.0" fill="#000000"/>
<rect x="454.4" y="252.3" width="5.0" height="5.0" fill="#000000"/>
<rect x="470.6" y="256.6" width="5.0" height="5.0" fill="#000000"/>
<line x1="327.5" y1="234.6" x2="327.5" y2="250.4" stroke="#f4b0b0" stroke-width="0.6" />
<line x1="325.7" y1="234.6" x2="329.3" y2="234.6" stroke="#f4b0b0" stroke-width="0.6" />
<line x1="325.7" y1="250.4" x2="329.3" y2="250.4" stroke="#f4b0b0" stroke-width="0.6" />
<line x1="343.7" y1="234.6" x2="343.7" y2="250.4" stroke="#f4b0b0" stroke-width="0.6" />
<line x1="341.9" y1="234.6" x2="345.5" y2="234.6" stroke="#f4b0b0" stroke-width="0.6" />
<line x1="341.9" y1="250.4" x2="345.5" y2="250.4" stroke="#f4b0b0" stroke-width="0.6" />
<line x1="359.9" y1="234.6" x2="359.9" y2="250.4" stroke="#f4b0b0" stroke-width="0.6" />
<line x1="358.1" y1="234.6" x2="361.7" y2="234.6" stroke="#f4b0b0" stroke-width="0.6" />
<line x1="358.1" y1="250.4" x2="361.7" y2="250.4" stroke="#f4b0b0" stroke-width="0.6" />
<line x1="376.0" y1="234.6" x2="376.0" y2="250.4" stroke="#f4b0b0" stroke-width="0.6" />
<line x1="374.2" y1="234.6" x2="377.8" y2="234.6" stroke="#f4b0b0" stroke-width="0.6" />
<line x1="374.2" y1="250.4" x2="377.8" y2="250.4" stroke="#f4b0b0" stroke-width="0.6" />
<line x1="392.2" y1="234.6" x2="392.2" y2="250.4" stroke="#f4b0b0" stroke-width="0.6" />
<line x1="390.4" y1="234.6" x2="394.0" y2="234.6" stroke="#f4b0b0" stroke-width="0.6" />
<line x1="390.4" y1="250.4" x2="394.0" y2="250.4" stroke="#f4b0b0" stroke-width="0.6" />
<line x1="408.4" y1="234.6" x2="408.4" y2="250.4" stroke="#f4b0b0" stroke-width="0.6" />
<line x1="406.6" y1="234.6" x2="410.2" y2="234.6" stroke="#f4b0b0" stroke-width="0.6" />
<line x1="406.6" y1="250.4" x2="410.2" y2="250.4" stroke="#f4b0b0" stroke-width="0.6" />
<line x1="424.6" y1="234.6" x2="424.6" y2="250.4" stroke="#f4b0b0" stroke-width="0.6" />
<line x1="422.8" y1="234.6" x2="426.4" y2="234.6" stroke="#f4b0b0" stroke-width="0.6" />
<line x1="422.8" y1="250.4" x2="426.4" y2="250.4" stroke="#f4b0b0" stroke-width="0.6" />
<line x1="440.8" y1="234.6" x2="440.8" y2="250.4" stroke="#f4b0b0" stroke-width="0.6" />
<line x1="439.0" y1="234.6" x2="442.6" y2="234.6" stroke="#f4b0b0" stroke-width="0.6" />
<line x1="439.0" y1="250.4" x2="442.6" y2="250.4" stroke="#f4b0b0" stroke-width="0.6" />
<line x1="456.9" y1="234.6" x2="456.9" y2="250.4" stroke="#f4b0b0" stroke-width="0.6" />
<line x1="455.1" y1="234.6" x2="458.7" y2="234.6" stroke="#f4b0b0" stroke-width="0.6" />
<line x1="455.1" y1="250.4" x2="458.7" y2="250.4" stroke="#f4b0b0" stroke-width="0.6" />
<line x1="473.1" y1="240.9" x2="473.1" y2="256.8" stroke="#f4b0b0" stroke-width="0.6" />
<line x1="471.3" y1="240.9" x2="474.9" y2="240.9" stroke="#f4b0b0" stroke-width="0.6" />
<line x1="471.3" y1="256.8" x2="474.9" y2="256.8" stroke="#f4b0b0" stroke-width="0.6" />
<line x1="489.3" y1="243.2" x2="489.3" y2="259.1" stroke="#f4b0b0" stroke-width="0.6" />
<line x1="487.5" y1="243.2" x2="491.1" y2="243.2" stroke="#f4b0b0" stroke-width="0.6" />
<line x1="487.5" y1="259.1" x2="491.1" y2="259.1" stroke="#f4b0b0" stroke-width="0.6" />
<line x1="505.5" y1="242.2" x2="505.5" y2="258.1" stroke="#f4b0b0" stroke-width="0.6" />
<line x1="503.7" y1="242.2" x2="507.3" y2="242.2" stroke="#f4b0b0" stroke-width="0.6" />
<line x1="503.7" y1="258.1" x2="507.3" y2="258.1" stroke="#f4b0b0" stroke-width="0.6" />
<line x1="521.7" y1="247.0" x2="521.7" y2="262.8" stroke="#f4b0b0" stroke-width="0.6" />
<line x1="519.9" y1="247.0" x2="523.5" y2="247.0" stroke="#f4b0b0" stroke-width="0.6" />
<line x1="519.9" y1="262.8" x2="523.5" y2="262.8" stroke="#f4b0b0" stroke-width="0.6" />
<line x1="537.8" y1="249.3" x2="537.8" y2="265.1" stroke="#f4b0b0" stroke-width="0.6" />
<line x1="536.0" y1="249.3" x2="539.6" y2="249.3" stroke="#f4b0b0" stroke-width="0.6" />
<line x1="536.0" y1="265.1" x2="539.6" y2="265.1" stroke="#f4b0b0" stroke-width="0.6" />
<polyline points="327.5,242.5 343.7,242.5 359.9,242.5 376.0,242.5 392.2,242.5 408.4,242.5 424.6,242.5 440.8,242.5 456.9,242.5 473.1,248.8 489.3,251.2 505.5,250.1 521.7,254.9 537.8,257.2" fill="none" stroke="#ff8060" stroke-width="1"/>
<path d="M324.2 244.7L327.5 239.5L330.8 244.7z" fill="#ff0000"/>
<path d="M340.4 244.7L343.7 239.5L347.0 244.7z" fill="#ff0000"/>
<path d="M356.6 244.7L359.9 239.5L363.2 244.7z" fill="#ff0000"/>
<path d="M372.7 244.7L376.0 239.5L379.3 244.7z" fill="#ff0000"/>
<path d="M388.9 244.7L392.2 239.5L395.5 244.7z" fill="#ff0000"/>
<path d="M405.1 244.7L408.4 239.5L411.7 244.7z" fill="#ff0000"/>
<path d="M421.3 244.7L424.6 239.5L427.9 244.7z" fill="#ff0000"/>
<path d="M437.5 244.7L440.8 239.5L444.1 244.7z" fill="#ff0000"/>
<path d="M453.6 244.7L456.9 239.5L460.2 244.7z" fill="#ff0000"/>
<path d="M469.8 251.0L473.1 245.9L476.4 251.0z" fill="#ff0000"/>
<path d="M486.0 253.3L489.3 248.2L492.6 253.3z" fill="#ff0000"/>
<path d="M502.2 252.3L505.5 247.2L508.8 252.3z" fill="#ff0000"/>
<path d="M518.4 257.1L521.7 251.9L525.0 257.1z" fill="#ff0000"/>
<path d="M534.5 259.4L537.8 254.2L541.1 259.4z" fill="#ff0000"/>
<line x1="327.5" y1="235.3" x2="327.5" y2="249.7" stroke="#a0a0f0" stroke-width="0.6" />
<line x1="325.7" y1="235.3" x2="329.3" y2="235.3" stroke="#a0a0f0" stroke-width="0.6" />
<line x1="325.7" y1="249.7" x2="329.3" y2="249.7" stroke="#a0a0f0" stroke-width="0.6" />
<line x1="343.7" y1="241.8" x2="343.7" y2="256.2" stroke="#a0a0f0" stroke-width="0.6" />
<line x1="341.9" y1="241.8" x2="345.5" y2="241.8" stroke="#a0a0f0" stroke-width="0.6" />
<line x1="341.9" y1="256.2" x2="345.5" y2="256.2" stroke="#a0a0f0" stroke-width="0.6" />
<line x1="359.9" y1="241.8" x2="359.9" y2="256.2" stroke="#a0a0f0" stroke-width="0.6" />
<line x1="358.1" y1="241.8" x2="361.7" y2="241.8" stroke="#a0a0f0" stroke-width="0.6" />
<line x1="358.1" y1="256.2" x2="361.7" y2="256.2" stroke="#a0a0f0" stroke-width="0.6" />
<line x1="376.0" y1="244.7" x2="376.0" y2="259.1" stroke="#a0a0f0" stroke-width="0.6" />
<line x1="374.2" y1="244.7" x2="377.8" y2="244.7" stroke="#a0a0f0" stroke-width="0.6" />
<line x1="374.2" y1="259.1" x2="377.8" y2="259.1" stroke="#a0a0f0" stroke-width="0.6" />
<line x1="392.2" y1="245.4" x2="392.2" y2="259.8" stroke="#a0a0f0" stroke-width="0.6" />
<line x1="390.4" y1="245.4" x2="394.0" y2="245.4" stroke="#a0a0f0" stroke-width="0.6" />
<line x1="390.4" y1="259.8" x2="394.0" y2="259.8" stroke="#a0a0f0" stroke-width="0.6" />
<line x1="408.4" y1="248.3" x2="408.4" y2="262.7" stroke="#a0a0f0" stroke-width="0.6" />
<line x1="406.6" y1="248.3" x2="410.2" y2="248.3" stroke="#a0a0f0" stroke-width="0.6" />
<line x1="406.6" y1="262.7" x2="410.2" y2="262.7" stroke="#a0a0f0" stroke-width="0.6" />
<line x1="424.6" y1="249.7" x2="424.6" y2="264.1" stroke="#a0a0f0" stroke-width="0.6" />
<line x1="422.8" y1="249.7" x2="426.4" y2="249.7" stroke="#a0a0f0" stroke-width="0.6" />
<line x1="422.8" y1="264.1" x2="426.4" y2="264.1" stroke="#a0a0f0" stroke-width="0.6" />
<line x1="440.8" y1="248.3" x2="440.8" y2="262.7" stroke="#a0a0f0" stroke-width="0.6" />
<line x1="439.0" y1="248.3" x2="442.6" y2="248.3" stroke="#a0a0f0" stroke-width="0.6" />
<line x1="439.0" y1="262.7" x2="442.6" y2="262.7" stroke="#a0a0f0" stroke-width="0.6" />
<line x1="456.9" y1="249.7" x2="456.9" y2="264.1" stroke="#a0a0f0" stroke-width="0.6" />
<line x1="455.1" y1="249.7" x2="458.7" y2="249.7" stroke="#a0a0f0" stroke-width="0.6" />
<line x1="455.1" y1="264.1" x2="458.7" y2="264.1" stroke="#a0a0f0" stroke-width="0.6" />
<line x1="473.1" y1="248.3" x2="473.1" y2="262.7" stroke="#a0a0f0" stroke-width="0.6" />
<line x1="471.3" y1="248.3" x2="474.9" y2="248.3" stroke="#a0a0f0" stroke-width="0.6" />
<line x1="471.3" y1="262.7" x2="474.9" y2="262.7" stroke="#a0a0f0" stroke-width="0.6" />
<line x1="489.3" y1="249.7" x2="489.3" y2="264.1" stroke="#a0a0f0" stroke-width="0.6" />
<line x1="487.5" y1="249.7" x2="491.1" y2="249.7" stroke="#a0a0f0" stroke-width="0.6" />
<line x1="487.5" y1="264.1" x2="491.1" y2="264.1" stroke="#a0a0f0" stroke-width="0.6" />
<line x1="505.5" y1="249.7" x2="505.5" y2="264.1" stroke="#a0a0f0" stroke-width="0.6" />
<line x1="503.7" y1="249.7" x2="507.3" y2="249.7" stroke="#a0a0f0" stroke-width="0.6" />
<line x1="503.7" y1="264.1" x2="507.3" y2="264.1" stroke="#a0a0f0" stroke-width="0.6" />
<polyline points="327.5,242.5 343.7,249.0 359.9,249.0 376.0,251.9 392.2,252.6 408.4,255.5 424.6,256.9 440.8,255.5 456.9,256.9 473.1,255.5 489.3,256.9 505.5,256.9" fill="none" stroke="#8080ff" stroke-width="1"/>
<path d="M324.1 242.5L327.5 239.1L330.9 242.5L327.5 245.9z" fill="#0000ff"/>
<path d="M340.3 249.0L343.7 245.6L347.1 249.0L343.7 252.4z" fill="#0000ff"/>
<path d="M356.5 249.0L359.9 245.6L363.3 249.0L359.9 252.4z" fill="#0000ff"/>
<path d="M372.6 251.9L376.0 248.5L379.4 251.9L376.0 255.3z" fill="#0000ff"/>
<path d="M388.8 252.6L392.2 249.2L395.6 252.6L392.2 256.0z" fill="#0000ff"/>
<path d="M405.0 255.5L408.4 252.1L411.8 255.5L408.4 258.9z" fill="#0000ff"/>
<path d="M421.2 256.9L424.6 253.5L428.0 256.9L424.6 260.3z" fill="#0000ff"/>
<path d="M437.4 255.5L440.8 252.1L444.2 255.5L440.8 258.9z" fill="#0000ff"/>
<path d="M453.5 256.9L456.9 253.5L460.3 256.9L456.9 260.3z" fill="#0000ff"/>
<path d="M469.7 255.5L473.1 252.1L476.5 255.5L473.1 258.9z" fill="#0000ff"/>
<path d="M485.9 256.9L489.3 253.5L492.7 256.9L489.3 260.3z" fill="#0000ff"/>
<path d="M502.1 256.9L505.5 253.5L508.9 256.9L505.5 260.3z" fill="#0000ff"/>
<polyline points="343.7,381.8 359.9,380.5 376.0,378.0 392.2,376.6 408.4,372.3 424.6,371.6 440.8,372.9 456.9,374.2 473.1,369.5" fill="none" stroke="#707070" stroke-width="1"/>
<circle cx="343.7" cy="381.8" r="2.9" fill="#222222"/>
<circle cx="359.9" cy="380.5" r="2.9" fill="#222222"/>
<circle cx="376.0" cy="378.0" r="2.9" fill="#222222"/>
<circle cx="392.2" cy="376.6" r="2.9" fill="#222222"/>
<circle cx="408.4" cy="372.3" r="2.9" fill="#222222"/>
<circle cx="424.6" cy="371.6" r="2.9" fill="#222222"/>
<circle cx="440.8" cy="372.9" r="2.9" fill="#222222"/>
<circle cx="456.9" cy="374.2" r="2.9" fill="#222222"/>
<circle cx="473.1" cy="369.5" r="2.9" fill="#222222"/>
<polyline points="327.5,386.7 343.7,386.7 359.9,386.7 376.0,386.7 392.2,386.7 408.4,386.7 424.6,386.7 440.8,386.7 456.9,386.7 473.1,380.1 489.3,378.0 505.5,380.1 521.7,374.9 537.8,372.3" fill="none" stroke="#f8a0f8" stroke-width="1"/>
<path d="M324.2 384.5L327.5 389.7L330.8 384.5z" fill="#ff00ff"/>
<path d="M340.4 384.5L343.7 389.7L347.0 384.5z" fill="#ff00ff"/>
<path d="M356.6 384.5L359.9 389.7L363.2 384.5z" fill="#ff00ff"/>
<path d="M372.7 384.5L376.0 389.7L379.3 384.5z" fill="#ff00ff"/>
<path d="M388.9 384.5L392.2 389.7L395.5 384.5z" fill="#ff00ff"/>
<path d="M405.1 384.5L408.4 389.7L411.7 384.5z" fill="#ff00ff"/>
<path d="M421.3 384.5L424.6 389.7L427.9 384.5z" fill="#ff00ff"/>
<path d="M437.5 384.5L440.8 389.7L444.1 384.5z" fill="#ff00ff"/>
<path d="M453.6 384.5L456.9 389.7L460.2 384.5z" fill="#ff00ff"/>
<path d="M469.8 377.9L473.1 383.0L476.4 377.9z" fill="#ff00ff"/>
<path d="M486.0 375.9L489.3 381.0L492.6 375.9z" fill="#ff00ff"/>
<path d="M502.2 377.9L505.5 383.0L508.8 377.9z" fill="#ff00ff"/>
<path d="M518.4 372.7L521.7 377.8L525.0 372.7z" fill="#ff00ff"/>
<path d="M534.5 370.1L537.8 375.2L541.1 370.1z" fill="#ff00ff"/>
<polyline points="327.5,386.7 343.7,379.9 359.9,379.9 376.0,376.6 392.2,376.6 408.4,374.4 424.6,373.0 440.8,373.7 456.9,372.3 473.1,373.7 489.3,372.3 505.5,372.3" fill="none" stroke="#00e0e0" stroke-width="1"/>
<path d="M324.6 386.7L329.6 383.5L329.6 389.9z" fill="#00e0e0"/>
<path d="M340.8 379.9L345.8 376.7L345.8 383.1z" fill="#00e0e0"/>
<path d="M357.0 379.9L361.9 376.7L361.9 383.1z" fill="#00e0e0"/>
<path d="M373.2 376.6L378.1 373.4L378.1 379.8z" fill="#00e0e0"/>
<path d="M389.4 376.6L394.3 373.4L394.3 379.8z" fill="#00e0e0"/>
<path d="M405.5 374.4L410.5 371.2L410.5 377.6z" fill="#00e0e0"/>
<path d="M421.7 373.0L426.7 369.8L426.7 376.2z" fill="#00e0e0"/>
<path d="M437.9 373.7L442.8 370.5L442.8 376.9z" fill="#00e0e0"/>
<path d="M454.1 372.3L459.0 369.1L459.0 375.5z" fill="#00e0e0"/>
<path d="M470.3 373.7L475.2 370.5L475.2 376.9z" fill="#00e0e0"/>
<path d="M486.4 372.3L491.4 369.1L491.4 375.5z" fill="#00e0e0"/>
<path d="M502.6 372.3L507.6 369.1L507.6 375.5z" fill="#00e0e0"/>
<line x1="462.0" y1="283.5" x2="482.3" y2="283.5" stroke="#888" stroke-width="0.9" />
<rect x="470.6" y="281.2" width="4.6" height="4.6" fill="#000"/>
<text x="485.8" y="286.8" font-size="9.3" text-anchor="start" font-weight="bold" fill="#000" >Pb-A X-ray</text>
<line x1="462.0" y1="295.2" x2="482.3" y2="295.2" stroke="#888" stroke-width="0.9" />
<circle cx="472.9" cy="295.2" r="2.4" fill="#333"/>
<text x="485.8" y="298.5" font-size="9.3" text-anchor="start" font-weight="bold" fill="#000" >Pb-B X-ray</text>
<line x1="462.0" y1="307.0" x2="482.3" y2="307.0" stroke="#f08080" stroke-width="0.9" />
<path d="M469.9 309.2L472.9 304.2L475.9 309.2z" fill="#f00"/>
<text x="485.8" y="310.3" font-size="9.3" text-anchor="start" font-weight="bold" fill="#000" >Pb-A N<tspan font-size="5.8" dy="2.5">2</tspan></text>
<line x1="462.0" y1="321.5" x2="482.3" y2="321.5" stroke="#f0a0f0" stroke-width="0.9" />
<path d="M469.9 319.3L472.9 324.3L475.9 319.3z" fill="#f0f"/>
<text x="485.8" y="324.8" font-size="9.3" text-anchor="start" font-weight="bold" fill="#000" >Pb-B N<tspan font-size="5.8" dy="2.5">2</tspan></text>
<line x1="462.0" y1="336.0" x2="482.3" y2="336.0" stroke="#8080f0" stroke-width="0.9" />
<path d="M469.9 336.0L472.9 333.0L475.9 336.0L472.9 339.0z" fill="#00f"/>
<text x="485.8" y="339.3" font-size="9.3" text-anchor="start" font-weight="bold" fill="#000" >Pb-A O<tspan font-size="5.8" dy="2.5">2</tspan></text>
<line x1="462.0" y1="350.5" x2="482.3" y2="350.5" stroke="#0dd" stroke-width="0.9" />
<path d="M469.9 350.5L475.1 347.5L475.1 353.5z" fill="#0dd"/>
<text x="485.8" y="353.8" font-size="9.3" text-anchor="start" font-weight="bold" fill="#000" >Pb-B O<tspan font-size="5.8" dy="2.5">2</tspan></text>
</svg></body></html>
